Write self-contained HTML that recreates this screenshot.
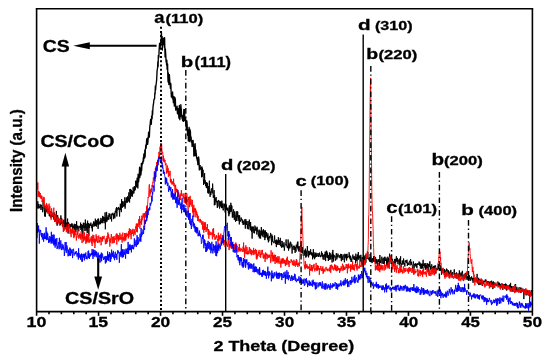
<!DOCTYPE html>
<html><head><meta charset="utf-8"><style>
html,body{margin:0;padding:0;background:#fff;}
svg{display:block;}
text{font-family:'Liberation Sans',Arial,sans-serif;font-weight:bold;stroke:#000;stroke-width:0.3px;}
</style></head><body>
<svg width="550" height="362" viewBox="0 0 550 362">
<rect width="550" height="362" fill="#fff"/>
<g fill="none" stroke-linejoin="round" stroke-width="0.9">
<polyline points="37.10,208.4 37.35,208.0 37.60,206.5 37.85,201.3 38.10,208.7 38.35,207.3 38.60,204.2 38.85,207.9 39.10,207.4 39.35,207.2 39.60,206.5 39.85,208.3 40.10,204.2 40.35,206.2 40.60,205.3 40.85,208.9 41.10,210.0 41.35,206.2 41.60,204.8 41.85,206.6 42.10,207.6 42.35,206.9 42.60,212.2 42.85,211.4 43.10,199.6 43.35,205.1 43.60,208.2 43.85,207.6 44.10,209.8 44.35,210.0 44.60,216.3 44.85,206.1 45.10,208.7 45.35,216.7 45.60,212.4 45.85,212.6 46.10,209.0 46.35,205.6 46.60,211.6 46.85,211.7 47.10,207.6 47.35,209.6 47.60,211.7 47.85,209.1 48.10,212.1 48.35,212.9 48.60,212.9 48.85,211.4 49.10,215.1 49.35,216.2 49.60,214.6 49.85,211.3 50.10,216.3 50.35,212.7 50.60,217.2 50.85,211.3 51.10,217.8 51.35,215.0 51.60,211.4 51.85,214.5 52.10,215.9 52.35,216.8 52.60,216.6 52.85,212.9 53.10,217.2 53.35,215.3 53.60,217.7 53.85,219.5 54.10,212.3 54.35,218.4 54.60,221.6 54.85,217.1 55.10,215.7 55.35,220.8 55.60,219.4 55.85,221.6 56.10,218.0 56.35,210.9 56.60,219.1 56.85,218.2 57.10,225.7 57.35,220.5 57.60,215.1 57.85,216.6 58.10,223.1 58.35,218.6 58.60,218.8 58.85,220.9 59.10,222.4 59.35,222.6 59.60,221.3 59.85,222.3 60.10,221.4 60.35,221.1 60.60,225.2 60.85,215.4 61.10,221.9 61.35,222.6 61.60,218.4 61.85,223.9 62.10,221.1 62.35,225.8 62.60,223.0 62.85,225.5 63.10,227.3 63.35,225.0 63.60,221.4 63.85,219.7 64.10,229.6 64.35,224.2 64.60,222.6 64.85,225.3 65.10,224.4 65.35,227.7 65.60,225.4 65.85,225.5 66.10,223.5 66.35,227.1 66.60,222.7 66.85,227.7 67.10,230.3 67.35,221.4 67.60,218.6 67.85,227.8 68.10,233.5 68.35,223.1 68.60,222.4 68.85,227.9 69.10,223.7 69.35,224.7 69.60,225.3 69.85,227.9 70.10,225.2 70.35,227.2 70.60,226.0 70.85,224.0 71.10,225.6 71.35,223.8 71.60,226.7 71.85,223.4 72.10,223.5 72.35,231.1 72.60,226.7 72.85,224.5 73.10,228.5 73.35,225.8 73.60,226.4 73.85,228.3 74.10,228.0 74.35,223.8 74.60,229.7 74.85,225.6 75.10,224.2 75.35,224.7 75.60,226.3 75.85,232.2 76.10,224.1 76.35,228.0 76.60,221.2 76.85,227.5 77.10,230.1 77.35,226.8 77.60,225.7 77.85,228.2 78.10,226.4 78.35,229.4 78.60,229.7 78.85,231.3 79.10,225.8 79.35,227.1 79.60,227.3 79.85,227.8 80.10,227.4 80.35,228.0 80.60,222.6 80.85,229.9 81.10,225.8 81.35,224.1 81.60,229.4 81.85,231.4 82.10,228.9 82.35,228.0 82.60,224.8 82.85,238.6 83.10,230.1 83.35,222.7 83.60,225.2 83.85,227.8 84.10,223.0 84.35,228.0 84.60,226.2 84.85,231.1 85.10,230.3 85.35,219.6 85.60,227.6 85.85,222.8 86.10,230.7 86.35,227.9 86.60,228.9 86.85,224.1 87.10,232.5 87.35,233.0 87.60,220.7 87.85,228.0 88.10,224.9 88.35,226.7 88.60,223.0 88.85,235.9 89.10,223.7 89.35,225.6 89.60,227.9 89.85,224.4 90.10,225.6 90.35,224.5 90.60,225.7 90.85,222.6 91.10,224.7 91.35,225.3 91.60,224.8 91.85,228.3 92.10,224.8 92.35,231.4 92.60,224.6 92.85,225.0 93.10,223.4 93.35,223.7 93.60,221.5 93.85,226.7 94.10,221.7 94.35,222.8 94.60,226.0 94.85,226.0 95.10,223.6 95.35,218.7 95.60,225.9 95.85,225.3 96.10,220.2 96.35,226.6 96.60,222.1 96.85,220.7 97.10,224.2 97.35,223.3 97.60,224.3 97.85,218.8 98.10,228.9 98.35,221.5 98.60,218.6 98.85,224.9 99.10,221.9 99.35,223.8 99.60,221.7 99.85,222.4 100.10,223.2 100.35,220.1 100.60,224.2 100.85,217.9 101.10,219.3 101.35,222.1 101.60,223.0 101.85,220.9 102.10,218.8 102.35,223.2 102.60,215.9 102.85,217.9 103.10,221.1 103.35,216.7 103.60,220.8 103.85,220.4 104.10,223.2 104.35,217.5 104.60,218.3 104.85,221.1 105.10,212.4 105.35,229.3 105.60,217.6 105.85,217.3 106.10,222.1 106.35,219.2 106.60,211.9 106.85,220.9 107.10,221.4 107.35,217.2 107.60,217.6 107.85,219.8 108.10,215.3 108.35,219.3 108.60,218.4 108.85,219.5 109.10,213.2 109.35,216.6 109.60,214.4 109.85,216.9 110.10,217.3 110.35,219.1 110.60,216.9 110.85,217.2 111.10,213.7 111.35,218.1 111.60,221.4 111.85,214.7 112.10,213.7 112.35,214.9 112.60,213.7 112.85,212.8 113.10,215.3 113.35,213.8 113.60,219.1 113.85,214.4 114.10,215.3 114.35,217.1 114.60,213.0 114.85,218.3 115.10,211.6 115.35,210.9 115.60,212.1 115.85,212.7 116.10,208.4 116.35,212.5 116.60,207.0 116.85,216.5 117.10,211.5 117.35,209.4 117.60,208.3 117.85,209.7 118.10,209.9 118.35,207.0 118.60,207.1 118.85,209.1 119.10,207.8 119.35,212.2 119.60,216.5 119.85,208.7 120.10,209.9 120.35,203.7 120.60,209.8 120.85,207.4 121.10,208.8 121.35,212.1 121.60,199.2 121.85,207.2 122.10,205.3 122.35,207.7 122.60,201.2 122.85,203.6 123.10,205.6 123.35,206.6 123.60,204.6 123.85,201.4 124.10,201.9 124.35,206.4 124.60,203.2 124.85,197.3 125.10,208.7 125.35,203.7 125.60,205.0 125.85,200.6 126.10,202.4 126.35,197.4 126.60,202.5 126.85,198.4 127.10,201.9 127.35,202.6 127.60,196.3 127.85,198.1 128.10,198.0 128.35,201.5 128.60,196.8 128.85,192.4 129.10,197.7 129.35,198.2 129.60,202.5 129.85,189.0 130.10,192.5 130.35,198.7 130.60,189.0 130.85,189.2 131.10,194.8 131.35,196.3 131.60,190.1 131.85,193.9 132.10,192.1 132.35,196.7 132.60,191.1 132.85,194.2 133.10,187.2 133.35,189.4 133.60,189.4 133.85,193.4 134.10,189.0 134.35,186.1 134.60,190.9 134.85,190.8 135.10,187.4 135.35,189.6 135.60,186.4 135.85,180.8 136.10,187.0" stroke="#000" stroke-width="0.95"/>
<polyline points="135.85,180.8 136.10,187.0 136.35,186.4 136.60,181.6 136.85,186.6 137.10,178.2 137.35,180.4 137.60,179.9 137.85,188.0 138.10,174.3 138.35,181.3 138.60,181.9 138.85,179.1 139.10,177.4 139.35,172.6 139.60,167.2 139.85,177.4 140.10,169.6 140.35,171.9 140.60,168.1 140.85,175.0 141.10,173.1 141.35,163.5 141.60,170.8 141.85,166.7 142.10,164.5 142.35,164.0 142.60,161.8 142.85,163.5 143.10,161.1 143.35,157.5 143.60,161.1 143.85,154.0 144.10,156.0 144.35,155.4 144.60,158.1 144.85,149.9 145.10,156.9 145.35,150.1 145.60,147.7 145.85,144.9 146.10,148.3 146.35,145.2 146.60,140.0 146.85,138.8 147.10,139.8 147.35,138.2 147.60,144.4 147.85,143.0 148.10,139.7 148.35,136.4 148.60,132.2 148.85,132.5 149.10,134.0 149.35,137.1 149.60,131.3 149.85,125.6 150.10,125.3 150.35,122.0 150.60,119.5 150.85,120.2 151.10,120.0 151.35,124.2 151.60,116.0 151.85,118.9 152.10,118.7 152.35,110.8 152.60,114.6 152.85,109.6 153.10,105.9 153.35,105.0 153.60,102.8 153.85,100.5 154.10,99.2 154.35,99.1 154.60,98.8 154.85,92.6 155.10,94.0 155.35,86.0 155.60,89.9 155.85,86.1 156.10,84.6 156.35,82.5 156.60,80.7 156.85,75.9 157.10,70.3 157.35,69.4 157.60,67.5 157.85,61.6 158.10,66.5 158.35,55.4 158.60,57.7 158.85,57.0 159.10,50.4 159.35,46.3 159.60,43.3 159.85,46.6 160.10,48.6 160.35,44.6 160.60,43.2 160.85,40.2 161.10,42.6 161.35,31.9 161.60,37.5 161.85,40.4 162.10,36.4 162.35,50.1 162.60,38.2 162.85,40.0 163.10,38.7 163.35,44.6 163.60,38.1 163.85,42.9 164.10,43.1 164.35,47.3 164.60,37.7 164.85,48.9 165.10,57.0 165.35,48.9 165.60,52.7 165.85,56.7 166.10,61.9 166.35,61.6 166.60,65.0 166.85,60.2 167.10,69.2 167.35,69.8 167.60,64.0 167.85,77.3 168.10,81.9 168.35,72.9 168.60,77.8 168.85,84.6 169.10,75.5 169.35,74.7 169.60,78.2 169.85,81.9 170.10,82.9 170.35,88.2 170.60,88.1 170.85,83.6 171.10,91.2 171.35,97.0 171.60,95.6 171.85,95.9 172.10,93.4 172.35,97.9 172.60,91.9 172.85,99.2 173.10,97.2 173.35,102.6 173.60,101.3 173.85,96.5 174.10,101.5 174.35,106.1 174.60,98.2 174.85,97.4 175.10,100.8 175.35,98.8 175.60,108.3 175.85,110.2 176.10,109.0 176.35,107.7 176.60,107.2 176.85,108.9 177.10,106.1 177.35,112.6 177.60,113.8 177.85,113.7 178.10,108.7 178.35,111.3 178.60,110.7 178.85,118.1 179.10,112.6 179.35,105.5 179.60,114.1 179.85,119.7 180.10,115.8 180.35,116.8 180.60,114.1 180.85,104.6 181.10,108.1 181.35,110.4 181.60,114.9 181.85,116.9 182.10,118.7 182.35,115.4 182.60,120.5 182.85,116.5 183.10,115.4 183.35,121.4 183.60,115.5 183.85,109.4 184.10,115.8 184.35,120.5 184.60,109.7 184.85,120.1 185.10,120.9 185.35,117.6 185.60,118.0 185.85,122.3 186.10,122.6 186.35,129.8 186.60,127.2 186.85,120.8 187.10,124.1 187.35,130.4 187.60,135.3 187.85,130.5 188.10,129.7 188.35,141.0 188.60,131.0 188.85,130.6 189.10,127.3 189.35,131.2 189.60,141.5 189.85,129.2 190.10,135.0 190.35,130.6 190.60,136.8 190.85,140.2 191.10,136.8 191.35,142.1 191.60,141.5 191.85,141.2 192.10,146.5 192.35,145.8 192.60,140.9 192.85,140.4 193.10,140.6 193.35,146.2 193.60,144.2 193.85,156.0 194.10,153.6 194.35,147.1 194.60,147.5 194.85,155.6 195.10,143.6 195.35,149.7 195.60,155.7 195.85,149.9 196.10,152.4 196.35,153.8 196.60,158.3 196.85,157.4 197.10,159.3 197.35,160.9 197.60,159.8 197.85,164.6 198.10,158.9 198.35,157.3 198.60,157.0 198.85,158.5 199.10,163.3 199.35,169.9 199.60,167.8 199.85,165.9 200.10,165.2" stroke="#000" stroke-width="1.35"/>
<polyline points="199.85,165.9 200.10,165.2 200.35,168.0 200.60,169.4 200.85,169.8 201.10,167.3 201.35,171.4 201.60,177.3 201.85,166.5 202.10,174.0 202.35,167.8 202.60,176.7 202.85,174.0 203.10,169.8 203.35,178.2 203.60,185.0 203.85,179.5 204.10,183.9 204.35,180.0 204.60,173.1 204.85,183.2 205.10,180.6 205.35,180.4 205.60,186.1 205.85,184.9 206.10,182.5 206.35,187.9 206.60,182.2 206.85,188.0 207.10,182.8 207.35,188.6 207.60,183.2 207.85,192.9 208.10,188.9 208.35,193.6 208.60,186.1 208.85,187.7 209.10,192.8 209.35,180.7 209.60,187.1 209.85,194.9 210.10,196.8 210.35,195.6 210.60,191.6 210.85,195.0 211.10,190.9 211.35,189.1 211.60,188.4 211.85,192.7 212.10,193.1 212.35,193.2 212.60,183.6 212.85,187.6 213.10,194.7 213.35,197.9 213.60,195.3 213.85,194.6 214.10,190.2 214.35,205.3 214.60,195.0 214.85,204.9 215.10,204.8 215.35,200.8 215.60,198.4 215.85,201.1 216.10,197.0 216.35,202.0 216.60,201.4 216.85,203.4 217.10,205.1 217.35,207.9 217.60,201.1 217.85,206.1 218.10,200.3 218.35,200.2 218.60,201.3 218.85,200.4 219.10,207.1 219.35,207.2 219.60,208.6 219.85,201.0 220.10,205.8 220.35,203.2 220.60,201.6 220.85,207.1 221.10,206.7 221.35,202.3 221.60,208.1 221.85,200.6 222.10,205.9 222.35,204.6 222.60,208.2 222.85,203.5 223.10,210.3 223.35,209.2 223.60,210.1 223.85,208.1 224.10,203.6 224.35,206.8 224.60,204.3 224.85,209.8 225.10,212.4 225.35,212.0 225.60,206.9 225.85,207.8 226.10,206.1 226.35,204.6 226.60,209.9 226.85,210.2 227.10,208.0 227.35,208.5 227.60,210.6 227.85,207.6 228.10,207.7 228.35,213.0 228.60,211.3 228.85,216.2 229.10,207.8 229.35,205.4 229.60,214.2 229.85,212.1 230.10,209.2 230.35,207.0 230.60,211.7 230.85,202.8 231.10,211.0 231.35,205.3 231.60,211.7 231.85,205.8 232.10,212.0 232.35,217.7 232.60,212.2 232.85,215.8 233.10,211.6 233.35,211.0 233.60,209.4 233.85,217.6 234.10,214.4 234.35,219.9 234.60,211.4 234.85,214.6 235.10,215.8 235.35,220.2 235.60,221.7 235.85,214.3 236.10,213.0 236.35,211.3 236.60,221.0 236.85,216.8 237.10,215.3 237.35,217.3 237.60,211.3 237.85,212.5 238.10,220.9 238.35,219.4 238.60,215.2 238.85,215.5 239.10,220.5 239.35,224.4 239.60,215.3 239.85,219.3 240.10,221.2 240.35,221.8 240.60,219.9 240.85,219.6 241.10,217.5 241.35,220.3 241.60,218.7 241.85,220.3 242.10,220.8 242.35,223.1 242.60,219.6 242.85,220.5 243.10,224.9 243.35,221.2 243.60,221.3 243.85,224.9 244.10,223.3 244.35,222.9 244.60,223.5 244.85,219.3 245.10,224.6 245.35,228.6 245.60,222.1 245.85,219.1 246.10,224.8 246.35,221.4 246.60,223.5 246.85,224.8 247.10,221.0 247.35,228.7 247.60,224.6 247.85,227.3 248.10,227.0 248.35,229.3 248.60,229.0 248.85,221.2 249.10,225.9 249.35,219.6 249.60,224.7 249.85,228.3 250.10,229.0 250.35,230.3 250.60,222.0 250.85,227.7 251.10,227.2 251.35,230.8 251.60,231.9 251.85,226.4 252.10,238.6 252.35,227.7 252.60,226.8 252.85,229.8 253.10,230.4 253.35,227.8 253.60,226.6 253.85,232.9 254.10,228.9 254.35,233.4 254.60,233.1 254.85,225.6 255.10,226.6 255.35,226.7 255.60,230.4 255.85,230.0 256.10,230.8 256.35,227.8 256.60,231.5 256.85,234.5 257.10,226.8 257.35,230.2 257.60,231.6 257.85,230.7 258.10,230.6 258.35,236.4 258.60,235.1 258.85,234.0 259.10,229.6 259.35,238.3 259.60,233.1 259.85,230.5 260.10,231.4 260.35,231.1 260.60,238.6 260.85,233.4 261.10,233.1 261.35,227.0 261.60,235.3 261.85,230.4 262.10,230.3 262.35,235.4 262.60,231.4 262.85,236.3 263.10,237.2 263.35,229.2 263.60,234.0 263.85,230.1 264.10,234.5 264.35,237.4 264.60,231.1 264.85,240.1 265.10,234.4 265.35,230.3 265.60,235.2 265.85,237.9 266.10,232.0 266.35,236.0 266.60,232.3 266.85,235.7 267.10,236.9 267.35,235.4 267.60,239.6 267.85,233.3 268.10,236.0 268.35,242.3 268.60,237.0 268.85,241.2 269.10,238.2 269.35,235.9 269.60,237.3 269.85,238.3 270.10,237.2 270.35,236.2 270.60,232.9 270.85,234.7 271.10,239.2 271.35,240.1 271.60,245.2 271.85,234.5 272.10,241.7 272.35,239.6 272.60,236.0 272.85,241.8 273.10,242.3 273.35,241.7 273.60,242.4 273.85,243.1 274.10,243.2 274.35,240.8 274.60,235.5 274.85,239.2 275.10,242.3 275.35,240.3 275.60,243.5 275.85,244.0 276.10,242.1 276.35,247.1 276.60,239.6 276.85,244.7 277.10,241.1 277.35,240.4 277.60,244.1 277.85,241.0 278.10,245.0 278.35,237.2 278.60,243.0 278.85,240.7 279.10,241.2 279.35,242.2 279.60,240.3 279.85,245.1 280.10,240.1 280.35,237.9 280.60,246.0 280.85,246.3 281.10,245.5 281.35,244.8 281.60,247.7 281.85,240.9 282.10,242.2 282.35,241.6 282.60,246.7 282.85,245.2 283.10,247.4 283.35,247.1 283.60,244.1 283.85,242.6 284.10,242.3 284.35,250.7 284.60,247.6 284.85,246.7 285.10,244.4 285.35,244.8 285.60,244.5 285.85,244.7 286.10,239.4 286.35,245.5 286.60,244.7 286.85,246.5 287.10,246.4 287.35,248.1 287.60,245.9 287.85,248.1 288.10,239.5 288.35,243.3 288.60,250.6 288.85,243.1 289.10,245.6 289.35,248.2 289.60,244.2 289.85,248.3 290.10,242.9 290.35,241.7 290.60,244.5 290.85,242.5 291.10,246.7 291.35,246.0 291.60,246.3 291.85,244.3 292.10,253.5 292.35,246.8 292.60,247.0 292.85,248.4 293.10,246.6 293.35,245.7 293.60,247.6 293.85,249.8 294.10,249.2 294.35,250.0 294.60,246.2 294.85,245.7 295.10,252.9 295.35,247.2 295.60,249.1 295.85,249.8 296.10,251.6 296.35,244.7 296.60,247.0 296.85,247.3 297.10,247.7 297.35,242.5 297.60,248.4 297.85,241.5 298.10,249.7 298.35,250.4 298.60,250.7 298.85,246.2 299.10,251.8 299.35,247.3 299.60,246.5 299.85,247.2 300.10,247.7 300.35,250.4 300.60,252.1 300.85,244.9 301.10,248.9 301.35,252.6 301.60,251.0 301.85,251.9 302.10,247.0 302.35,253.2 302.60,247.1 302.85,251.6 303.10,254.6 303.35,256.0 303.60,252.7 303.85,253.7 304.10,250.1 304.35,250.6 304.60,254.8 304.85,255.7 305.10,251.8 305.35,248.7 305.60,252.7 305.85,257.6 306.10,250.6 306.35,251.3 306.60,256.5 306.85,253.1 307.10,252.0 307.35,246.1 307.60,251.3 307.85,252.3 308.10,256.3 308.35,251.5 308.60,257.4 308.85,250.8 309.10,252.2 309.35,255.2 309.60,252.6 309.85,251.2 310.10,253.0 310.35,254.5 310.60,249.2 310.85,252.9 311.10,253.3 311.35,252.6 311.60,255.4 311.85,252.3 312.10,252.8 312.35,253.9 312.60,259.3 312.85,253.3 313.10,257.6 313.35,249.2 313.60,257.1 313.85,252.0 314.10,253.7 314.35,255.1 314.60,259.2 314.85,256.4 315.10,253.3 315.35,257.5 315.60,253.9 315.85,252.6 316.10,255.6 316.35,254.8 316.60,256.9 316.85,253.3 317.10,255.6 317.35,256.2 317.60,255.4 317.85,254.7 318.10,253.1 318.35,257.0 318.60,255.2 318.85,256.1 319.10,254.1 319.35,255.0 319.60,252.6 319.85,255.3 320.10,256.9 320.35,255.4 320.60,257.2 320.85,256.0 321.10,256.0 321.35,254.8 321.60,251.4 321.85,256.4 322.10,255.0 322.35,253.1 322.60,257.0 322.85,256.2 323.10,259.4 323.35,254.8 323.60,256.1 323.85,256.3 324.10,259.9 324.35,254.1 324.60,255.8 324.85,256.7 325.10,251.8 325.35,252.1 325.60,261.1 325.85,251.8 326.10,257.4 326.35,250.7 326.60,254.2 326.85,251.4 327.10,254.0 327.35,258.0 327.60,252.9 327.85,257.6 328.10,257.0 328.35,261.0 328.60,255.1 328.85,259.3 329.10,258.4 329.35,255.7 329.60,252.4 329.85,260.0 330.10,253.2 330.35,255.3 330.60,258.6 330.85,259.1 331.10,254.5 331.35,256.5 331.60,255.9 331.85,257.8 332.10,262.5 332.35,252.3 332.60,258.8 332.85,249.9 333.10,259.1 333.35,254.1 333.60,261.5 333.85,257.2 334.10,255.1 334.35,255.7 334.60,255.5 334.85,257.3 335.10,256.5 335.35,258.5 335.60,260.6 335.85,258.6 336.10,254.1 336.35,253.2 336.60,255.2 336.85,259.4 337.10,256.2 337.35,255.4 337.60,257.2 337.85,253.6 338.10,254.2 338.35,255.9 338.60,256.2 338.85,255.8 339.10,257.6 339.35,255.5 339.60,255.2 339.85,255.7 340.10,258.2 340.35,256.9 340.60,253.9 340.85,256.0 341.10,258.3 341.35,261.2 341.60,254.0 341.85,257.5 342.10,256.1 342.35,258.6 342.60,257.7 342.85,260.1 343.10,254.5 343.35,255.3 343.60,255.3 343.85,257.6 344.10,257.5 344.35,262.3 344.60,260.5 344.85,253.8 345.10,257.4 345.35,254.5 345.60,255.5 345.85,258.3 346.10,257.8 346.35,254.1 346.60,260.5 346.85,254.3 347.10,253.8 347.35,258.2 347.60,257.2 347.85,256.3 348.10,256.6 348.35,257.3 348.60,256.4 348.85,256.4 349.10,252.3 349.35,253.7 349.60,258.3 349.85,255.2 350.10,258.2 350.35,259.8 350.60,256.1 350.85,257.7 351.10,261.9 351.35,258.7 351.60,261.4 351.85,260.7 352.10,258.9 352.35,256.9 352.60,255.2 352.85,254.6 353.10,258.4 353.35,258.3 353.60,256.8 353.85,259.3 354.10,255.9 354.35,259.9 354.60,257.5 354.85,257.3 355.10,257.4 355.35,257.2 355.60,263.3 355.85,253.7 356.10,257.9 356.35,260.4 356.60,259.2 356.85,256.8 357.10,261.6 357.35,255.1 357.60,254.5 357.85,258.9 358.10,254.2 358.35,252.0 358.60,259.7 358.85,258.1 359.10,256.7 359.35,256.5 359.60,258.1 359.85,255.4 360.10,261.7 360.35,259.5 360.60,259.4 360.85,254.8 361.10,259.6 361.35,261.2 361.60,264.5 361.85,259.6 362.10,257.8 362.35,257.0 362.60,259.2 362.85,258.7 363.10,258.4 363.35,257.1 363.60,261.8 363.85,255.1 364.10,257.8 364.35,256.5 364.60,260.3 364.85,261.2 365.10,260.8 365.35,259.7 365.60,254.6 365.85,262.8 366.10,259.1 366.35,257.7 366.60,256.6 366.85,257.2 367.10,259.0 367.35,258.7 367.60,257.2 367.85,252.0 368.10,258.0 368.35,259.3 368.60,259.4 368.85,257.9 369.10,259.4 369.35,260.8 369.60,257.4 369.85,261.9 370.10,254.1 370.35,255.7 370.60,256.6 370.85,253.1 371.10,256.5 371.35,261.8 371.60,261.9 371.85,259.3 372.10,263.1 372.35,259.7 372.60,258.1 372.85,259.9 373.10,259.1 373.35,261.1 373.60,256.0 373.85,261.9 374.10,258.6 374.35,261.7 374.60,256.2 374.85,258.9 375.10,260.1 375.35,262.0 375.60,257.2 375.85,263.9 376.10,261.3 376.35,259.0 376.60,263.1 376.85,260.6 377.10,263.0 377.35,265.8 377.60,262.3 377.85,259.4 378.10,259.7 378.35,262.1 378.60,259.5 378.85,259.0 379.10,259.4 379.35,262.5 379.60,266.3 379.85,255.0 380.10,262.6 380.35,260.5 380.60,262.8 380.85,263.0 381.10,261.1 381.35,258.7 381.60,257.8 381.85,256.7 382.10,263.8 382.35,260.5 382.60,259.8 382.85,260.4 383.10,258.0 383.35,261.7 383.60,264.0 383.85,263.6 384.10,257.4 384.35,264.1 384.60,259.3 384.85,256.7 385.10,258.2 385.35,258.8 385.60,261.0 385.85,258.7 386.10,257.6 386.35,260.4 386.60,265.4 386.85,259.4 387.10,262.1 387.35,261.2 387.60,267.0 387.85,256.7 388.10,261.9 388.35,258.1 388.60,259.7 388.85,260.8 389.10,266.5 389.35,259.3 389.60,253.7 389.85,263.9 390.10,259.1 390.35,260.5 390.60,261.0 390.85,261.3 391.10,260.8 391.35,261.8 391.60,262.1 391.85,263.2 392.10,260.3 392.35,259.6 392.60,258.9 392.85,262.7 393.10,261.3 393.35,262.7 393.60,262.7 393.85,265.3 394.10,262.0 394.35,263.3 394.60,258.9 394.85,259.2 395.10,261.0 395.35,259.0 395.60,263.3 395.85,258.8 396.10,261.9 396.35,256.3 396.60,259.4 396.85,261.1 397.10,261.3 397.35,257.9 397.60,262.2 397.85,264.2 398.10,263.5 398.35,260.6 398.60,260.8 398.85,259.5 399.10,263.6 399.35,265.4 399.60,261.1 399.85,258.5 400.10,262.8 400.35,263.9 400.60,256.3 400.85,262.7 401.10,267.3 401.35,264.3 401.60,263.7 401.85,263.4 402.10,264.9 402.35,260.5 402.60,260.7 402.85,263.6 403.10,261.1 403.35,263.3 403.60,258.5 403.85,264.5 404.10,264.7 404.35,262.9 404.60,263.2 404.85,266.5 405.10,260.5 405.35,260.9 405.60,260.5 405.85,262.1 406.10,260.8 406.35,263.1 406.60,261.6 406.85,259.9 407.10,259.7 407.35,265.9 407.60,263.1 407.85,262.7 408.10,263.3 408.35,263.1 408.60,265.0 408.85,264.6 409.10,262.1 409.35,261.6 409.60,261.0 409.85,260.7 410.10,265.4 410.35,261.5 410.60,259.1 410.85,261.8 411.10,261.9 411.35,264.4 411.60,261.8 411.85,265.0 412.10,264.7 412.35,266.6 412.60,268.7 412.85,270.2 413.10,266.9 413.35,261.4 413.60,263.1 413.85,264.6 414.10,268.6 414.35,265.6 414.60,264.0 414.85,263.8 415.10,265.5 415.35,265.9 415.60,263.3 415.85,266.1 416.10,266.7 416.35,264.1 416.60,264.1 416.85,268.1 417.10,263.5 417.35,264.6 417.60,263.9 417.85,263.3 418.10,265.0 418.35,263.8 418.60,264.1 418.85,263.1 419.10,261.5 419.35,262.8 419.60,265.6 419.85,262.4 420.10,263.6 420.35,268.6 420.60,267.5 420.85,263.6 421.10,266.4 421.35,263.8 421.60,268.7 421.85,264.0 422.10,265.5 422.35,268.3 422.60,263.6 422.85,268.2 423.10,259.8 423.35,266.0 423.60,264.9 423.85,265.3 424.10,265.9 424.35,265.4 424.60,263.4 424.85,267.6 425.10,264.8 425.35,269.7 425.60,268.8 425.85,263.0 426.10,268.7 426.35,268.8 426.60,264.9 426.85,268.4 427.10,269.3 427.35,265.1 427.60,263.3 427.85,265.6 428.10,272.4 428.35,267.0 428.60,263.9 428.85,266.0 429.10,264.5 429.35,265.8 429.60,267.0 429.85,261.3 430.10,267.6 430.35,269.9 430.60,266.6 430.85,266.2 431.10,269.4 431.35,264.5 431.60,264.6 431.85,264.3 432.10,267.0 432.35,268.2 432.60,267.3 432.85,271.3 433.10,269.3 433.35,268.7 433.60,266.0 433.85,267.2 434.10,270.4 434.35,265.6 434.60,267.4 434.85,267.1 435.10,267.7 435.35,265.9 435.60,265.4 435.85,273.7 436.10,270.4 436.35,269.1 436.60,268.4 436.85,270.1 437.10,268.0 437.35,270.1 437.60,267.6 437.85,268.3 438.10,268.9 438.35,268.2 438.60,264.2 438.85,269.4 439.10,270.0 439.35,270.5 439.60,267.6 439.85,270.4 440.10,270.2 440.35,266.2 440.60,265.4 440.85,271.0 441.10,268.2 441.35,272.3 441.60,274.7 441.85,269.2 442.10,269.1 442.35,270.6 442.60,272.1 442.85,268.5 443.10,273.4 443.35,273.0 443.60,272.4 443.85,270.0 444.10,273.1 444.35,273.0 444.60,269.0 444.85,277.0 445.10,270.9 445.35,272.4 445.60,270.6 445.85,275.8 446.10,274.1 446.35,270.2 446.60,268.6 446.85,271.1 447.10,269.4 447.35,270.6 447.60,271.9 447.85,272.1 448.10,274.9 448.35,270.3 448.60,273.1 448.85,271.5 449.10,275.3 449.35,277.6 449.60,273.3 449.85,276.1 450.10,271.7 450.35,273.3 450.60,270.4 450.85,269.9 451.10,271.2 451.35,272.6 451.60,275.4 451.85,274.6 452.10,277.3 452.35,272.5 452.60,272.0 452.85,273.6 453.10,273.8 453.35,274.1 453.60,274.4 453.85,273.5 454.10,270.0 454.35,269.3 454.60,272.3 454.85,277.3 455.10,273.2 455.35,275.4 455.60,277.0 455.85,274.9 456.10,273.5 456.35,273.8 456.60,272.4 456.85,278.6 457.10,276.7 457.35,275.7 457.60,276.2 457.85,276.1 458.10,278.7 458.35,273.6 458.60,275.2 458.85,276.3 459.10,277.4 459.35,270.4 459.60,274.1 459.85,274.8 460.10,273.3 460.35,276.9 460.60,275.8 460.85,274.7 461.10,272.4 461.35,273.0 461.60,273.7 461.85,276.6 462.10,273.4 462.35,270.8 462.60,273.1 462.85,274.8 463.10,279.2 463.35,280.9 463.60,275.2 463.85,278.0 464.10,278.9 464.35,278.8 464.60,276.1 464.85,273.9 465.10,275.6 465.35,273.0 465.60,277.1 465.85,278.2 466.10,273.2 466.35,276.8 466.60,277.6 466.85,279.5 467.10,279.8 467.35,278.8 467.60,276.0 467.85,276.7 468.10,279.8 468.35,276.4 468.60,277.6 468.85,280.8 469.10,278.1 469.35,275.3 469.60,277.5 469.85,279.3 470.10,277.8 470.35,280.5 470.60,280.8 470.85,277.2 471.10,277.6 471.35,278.4 471.60,276.4 471.85,279.5 472.10,280.2 472.35,280.5 472.60,277.9 472.85,280.2 473.10,282.8 473.35,277.6 473.60,278.3 473.85,278.1 474.10,279.0 474.35,277.9 474.60,281.2 474.85,278.5 475.10,279.0 475.35,280.6 475.60,281.3 475.85,280.9 476.10,278.6 476.35,280.8 476.60,279.9 476.85,279.9 477.10,273.9 477.35,281.5 477.60,280.0 477.85,283.6 478.10,281.6 478.35,278.2 478.60,277.8 478.85,285.1 479.10,278.8 479.35,281.8 479.60,283.5 479.85,284.7 480.10,280.8 480.35,279.7 480.60,284.5 480.85,279.9 481.10,280.2 481.35,283.7 481.60,280.9 481.85,279.3 482.10,283.3 482.35,286.0 482.60,281.0 482.85,283.8 483.10,280.9 483.35,283.8 483.60,280.8 483.85,283.9 484.10,282.4 484.35,281.1 484.60,281.9 484.85,280.5 485.10,279.5 485.35,279.7 485.60,281.7 485.85,279.8 486.10,279.6 486.35,283.1 486.60,283.0 486.85,281.3 487.10,282.4 487.35,282.3 487.60,285.0 487.85,281.0 488.10,281.9 488.35,282.3 488.60,282.5 488.85,281.4 489.10,281.8 489.35,285.0 489.60,281.9 489.85,285.0 490.10,287.2 490.35,285.8 490.60,281.2 490.85,285.0 491.10,284.5 491.35,284.8 491.60,280.7 491.85,285.3 492.10,281.9 492.35,286.5 492.60,286.2 492.85,289.1 493.10,283.5 493.35,281.4 493.60,286.4 493.85,286.2 494.10,283.9 494.35,287.3 494.60,286.1 494.85,282.4 495.10,284.2 495.35,284.0 495.60,284.7 495.85,285.3 496.10,283.7 496.35,284.6 496.60,286.2 496.85,284.9 497.10,284.6 497.35,284.6 497.60,285.0 497.85,281.5 498.10,285.6 498.35,283.3 498.60,285.5 498.85,282.5 499.10,287.2 499.35,285.9 499.60,282.9 499.85,285.9 500.10,284.1 500.35,289.0 500.60,286.5 500.85,284.1 501.10,286.1 501.35,285.6 501.60,288.0 501.85,283.8 502.10,286.8 502.35,283.7 502.60,285.3 502.85,289.9 503.10,287.1 503.35,285.9 503.60,286.3 503.85,284.2 504.10,286.4 504.35,284.0 504.60,288.6 504.85,285.4 505.10,284.7 505.35,287.4 505.60,283.5 505.85,286.4 506.10,284.0 506.35,290.1 506.60,290.5 506.85,288.4 507.10,287.3 507.35,288.1 507.60,288.0 507.85,285.2 508.10,285.4 508.35,287.5 508.60,286.3 508.85,286.5 509.10,288.9 509.35,287.3 509.60,284.6 509.85,287.3 510.10,286.3 510.35,287.3 510.60,282.9 510.85,290.3 511.10,291.7 511.35,286.0 511.60,289.4 511.85,289.4 512.10,286.3 512.35,288.6 512.60,291.2 512.85,290.2 513.10,291.8 513.35,286.5 513.60,287.4 513.85,289.4 514.10,289.6 514.35,289.1 514.60,288.3 514.85,288.4 515.10,284.4 515.35,290.1 515.60,284.0 515.85,292.4 516.10,288.4 516.35,290.4 516.60,290.5 516.85,286.8 517.10,290.3 517.35,288.9 517.60,290.8 517.85,291.2 518.10,292.3 518.35,288.9 518.60,289.3 518.85,289.9 519.10,287.3 519.35,291.2 519.60,290.3 519.85,287.5 520.10,292.5 520.35,292.8 520.60,287.7 520.85,291.4 521.10,292.8 521.35,292.0 521.60,288.6 521.85,287.8 522.10,290.3 522.35,289.7 522.60,290.6 522.85,290.5 523.10,291.8 523.35,289.7 523.60,290.5 523.85,299.1 524.10,290.7 524.35,289.5 524.60,291.6 524.85,291.5 525.10,289.4 525.35,292.3 525.60,291.2 525.85,292.9 526.10,295.4 526.35,291.9 526.60,293.0 526.85,289.7 527.10,291.9 527.35,294.7 527.60,291.7 527.85,290.7 528.10,292.3 528.35,291.7 528.60,291.6 528.85,291.4 529.10,296.0 529.35,290.6 529.60,291.5 529.85,291.3 530.10,294.8 530.35,292.0 530.60,295.1 530.85,293.0 531.10,292.7 531.35,290.0 531.60,295.2 531.85,293.9" stroke="#000" stroke-width="0.95"/>
<polyline points="37.10,189.6 37.35,187.8 37.60,188.7 37.85,182.5 38.10,197.0 38.35,195.3 38.60,191.0 38.85,195.1 39.10,194.0 39.35,191.8 39.60,197.3 39.85,193.6 40.10,194.0 40.35,193.0 40.60,197.6 40.85,196.3 41.10,199.0 41.35,195.7 41.60,198.6 41.85,195.7 42.10,202.0 42.35,200.2 42.60,201.1 42.85,201.8 43.10,197.6 43.35,203.9 43.60,208.6 43.85,196.8 44.10,197.0 44.35,198.1 44.60,206.3 44.85,204.4 45.10,208.0 45.35,207.2 45.60,206.0 45.85,206.7 46.10,205.6 46.35,209.3 46.60,203.0 46.85,205.6 47.10,208.1 47.35,213.5 47.60,205.4 47.85,204.7 48.10,206.7 48.35,213.1 48.60,208.4 48.85,213.7 49.10,203.6 49.35,213.7 49.60,213.7 49.85,206.0 50.10,211.4 50.35,215.1 50.60,211.8 50.85,215.0 51.10,219.8 51.35,213.3 51.60,208.3 51.85,210.6 52.10,215.4 52.35,213.0 52.60,213.4 52.85,213.9 53.10,216.6 53.35,211.4 53.60,210.3 53.85,207.7 54.10,219.5 54.35,216.3 54.60,221.1 54.85,216.6 55.10,214.6 55.35,218.7 55.60,217.3 55.85,213.9 56.10,215.3 56.35,223.8 56.60,219.6 56.85,220.1 57.10,218.1 57.35,217.1 57.60,222.2 57.85,219.3 58.10,217.5 58.35,219.7 58.60,217.6 58.85,221.1 59.10,224.3 59.35,218.5 59.60,225.6 59.85,219.4 60.10,222.2 60.35,219.4 60.60,221.5 60.85,222.5 61.10,221.3 61.35,220.7 61.60,221.0 61.85,220.8 62.10,218.7 62.35,222.9 62.60,225.2 62.85,226.9 63.10,226.3 63.35,232.0 63.60,225.8 63.85,223.7 64.10,230.9 64.35,222.4 64.60,228.6 64.85,223.1 65.10,227.2 65.35,220.6 65.60,229.3 65.85,226.4 66.10,224.2 66.35,232.2 66.60,229.7 66.85,227.8 67.10,225.7 67.35,228.0 67.60,227.8 67.85,230.6 68.10,231.0 68.35,226.9 68.60,224.0 68.85,227.7 69.10,225.5 69.35,228.0 69.60,229.6 69.85,232.1 70.10,234.1 70.35,228.1 70.60,232.3 70.85,229.6 71.10,237.1 71.35,231.1 71.60,232.9 71.85,229.0 72.10,229.5 72.35,232.7 72.60,229.1 72.85,233.5 73.10,228.2 73.35,234.8 73.60,230.5 73.85,238.2 74.10,232.7 74.35,236.8 74.60,229.9 74.85,235.3 75.10,231.8 75.35,233.1 75.60,234.7 75.85,234.0 76.10,235.8 76.35,240.5 76.60,237.0 76.85,235.1 77.10,231.5 77.35,233.2 77.60,235.0 77.85,229.7 78.10,237.8 78.35,235.2 78.60,235.2 78.85,238.7 79.10,238.0 79.35,236.8 79.60,233.5 79.85,237.2 80.10,237.4 80.35,234.1 80.60,239.5 80.85,238.1 81.10,231.3 81.35,237.2 81.60,234.5 81.85,240.2 82.10,243.0 82.35,234.2 82.60,234.9 82.85,237.7 83.10,236.8 83.35,241.8 83.60,239.7 83.85,237.0 84.10,239.4 84.35,232.3 84.60,238.9 84.85,240.5 85.10,237.7 85.35,236.3 85.60,239.9 85.85,243.8 86.10,239.1 86.35,235.5 86.60,242.6 86.85,233.5 87.10,240.1 87.35,237.2 87.60,241.4 87.85,234.0 88.10,242.6 88.35,239.8 88.60,234.3 88.85,233.7 89.10,238.3 89.35,242.7 89.60,239.6 89.85,239.5 90.10,238.7 90.35,241.4 90.60,240.5 90.85,240.2 91.10,236.8 91.35,242.8 91.60,243.3 91.85,236.1 92.10,246.0 92.35,241.7 92.60,238.5 92.85,234.7 93.10,241.7 93.35,241.5 93.60,238.4 93.85,235.2 94.10,243.2 94.35,238.6 94.60,238.9 94.85,248.0 95.10,246.1 95.35,239.9 95.60,239.2 95.85,242.2 96.10,234.3 96.35,240.8 96.60,238.4 96.85,237.0 97.10,236.1 97.35,241.9 97.60,242.9 97.85,240.8 98.10,242.7 98.35,238.1 98.60,237.0 98.85,235.5 99.10,239.4 99.35,242.4 99.60,239.9 99.85,242.1 100.10,237.1 100.35,239.0 100.60,238.2 100.85,236.9 101.10,245.3 101.35,240.9 101.60,238.1 101.85,238.1 102.10,240.0 102.35,236.3 102.60,241.4 102.85,236.6 103.10,239.1 103.35,237.3 103.60,238.8 103.85,236.5 104.10,235.8 104.35,237.4 104.60,238.2 104.85,239.3 105.10,240.2 105.35,244.2 105.60,242.2 105.85,239.3 106.10,242.0 106.35,238.1 106.60,243.9 106.85,241.4 107.10,236.1 107.35,241.9 107.60,242.0 107.85,232.4 108.10,237.6 108.35,238.4 108.60,234.3 108.85,236.7 109.10,236.9 109.35,240.9 109.60,240.3 109.85,246.6 110.10,238.3 110.35,242.5 110.60,239.5 110.85,240.0 111.10,236.1 111.35,234.0 111.60,237.1 111.85,241.2 112.10,243.4 112.35,242.0 112.60,237.0 112.85,236.7 113.10,243.2 113.35,242.6 113.60,237.4 113.85,238.7 114.10,236.0 114.35,242.8 114.60,239.8 114.85,238.4 115.10,239.8 115.35,239.8 115.60,237.4 115.85,235.1 116.10,234.9 116.35,233.6 116.60,239.7 116.85,244.5 117.10,233.6 117.35,238.6 117.60,239.3 117.85,235.4 118.10,238.6 118.35,235.0 118.60,241.3 118.85,236.3 119.10,238.2 119.35,239.7 119.60,236.6 119.85,232.8 120.10,236.2 120.35,239.7 120.60,237.3 120.85,238.2 121.10,234.5 121.35,237.8 121.60,239.4 121.85,237.4 122.10,242.6 122.35,236.7 122.60,234.3 122.85,232.6 123.10,240.3 123.35,236.9 123.60,239.8 123.85,238.2 124.10,241.4 124.35,240.4 124.60,233.0 124.85,237.5 125.10,239.7 125.35,233.2 125.60,240.6 125.85,239.9 126.10,239.2 126.35,235.7 126.60,237.0 126.85,232.8 127.10,236.0 127.35,234.0 127.60,235.7 127.85,234.0 128.10,236.0 128.35,238.4 128.60,231.2 128.85,237.3 129.10,232.5 129.35,228.3 129.60,233.9 129.85,234.1 130.10,235.2 130.35,229.0 130.60,233.3 130.85,233.7 131.10,239.2 131.35,232.6 131.60,234.2 131.85,229.7 132.10,231.7 132.35,230.8 132.60,233.9 132.85,228.8 133.10,229.0 133.35,236.0 133.60,236.2 133.85,231.9 134.10,231.5 134.35,229.4 134.60,233.3 134.85,231.5 135.10,234.8 135.35,230.5 135.60,226.6 135.85,227.5 136.10,226.0 136.35,223.6 136.60,231.8 136.85,230.1 137.10,223.7 137.35,232.3 137.60,227.4 137.85,223.5 138.10,227.1 138.35,225.4 138.60,222.9 138.85,219.0 139.10,224.6 139.35,225.0 139.60,216.0 139.85,228.6 140.10,224.9 140.35,221.2 140.60,222.6 140.85,221.1 141.10,218.9 141.35,219.9 141.60,224.7 141.85,215.6 142.10,220.4 142.35,219.8 142.60,216.6 142.85,216.9 143.10,213.5 143.35,214.7 143.60,217.0 143.85,217.5 144.10,213.2 144.35,225.3 144.60,213.4 144.85,215.1 145.10,213.5 145.35,212.5 145.60,217.5 145.85,211.3 146.10,216.0 146.35,214.4 146.60,206.2 146.85,211.9 147.10,205.4 147.35,215.5 147.60,204.1 147.85,201.2 148.10,197.0 148.35,197.9 148.60,196.5 148.85,190.7 149.10,185.5 149.35,184.3 149.60,188.7 149.85,196.9 150.10,189.3 150.35,193.9 150.60,192.0 150.85,189.4 151.10,188.7 151.35,188.3 151.60,192.1 151.85,187.6 152.10,184.9 152.35,187.1 152.60,184.8 152.85,181.9 153.10,182.7 153.35,177.4 153.60,181.0 153.85,179.3 154.10,175.1 154.35,171.3 154.60,179.1 154.85,173.1 155.10,181.7 155.35,168.2 155.60,172.0 155.85,166.6 156.10,167.8 156.35,168.7 156.60,162.2 156.85,163.5 157.10,163.3 157.35,162.1 157.60,162.7 157.85,163.0 158.10,161.4 158.35,158.5 158.60,155.5 158.85,151.9 159.10,152.2 159.35,151.9 159.60,156.8 159.85,150.5 160.10,146.6 160.35,151.8 160.60,143.1 160.85,146.3 161.10,148.9 161.35,152.0 161.60,143.3 161.85,148.4 162.10,153.5 162.35,152.6 162.60,151.8 162.85,153.7 163.10,160.8 163.35,155.7 163.60,160.5 163.85,161.7 164.10,158.5 164.35,162.4 164.60,160.4 164.85,160.8 165.10,160.0 165.35,165.3 165.60,164.3 165.85,164.6 166.10,163.4 166.35,173.7 166.60,170.9 166.85,168.7 167.10,167.5 167.35,165.4 167.60,172.1 167.85,172.7 168.10,167.8 168.35,176.9 168.60,176.1 168.85,170.8 169.10,172.6 169.35,173.4 169.60,175.8 169.85,175.3 170.10,170.9 170.35,181.9 170.60,178.8 170.85,182.6 171.10,183.3 171.35,179.3 171.60,181.8 171.85,183.8 172.10,184.7 172.35,182.3 172.60,181.4 172.85,184.0 173.10,181.8 173.35,183.1 173.60,178.7 173.85,186.2 174.10,183.1 174.35,185.1 174.60,187.3 174.85,189.0 175.10,194.7 175.35,189.6 175.60,184.8 175.85,190.4 176.10,188.5 176.35,192.3 176.60,189.2 176.85,189.4 177.10,190.2 177.35,190.1 177.60,189.4 177.85,190.4 178.10,192.7 178.35,197.0 178.60,192.2 178.85,192.2 179.10,195.5 179.35,195.6 179.60,199.3 179.85,196.2 180.10,194.4 180.35,199.1 180.60,200.0 180.85,193.6 181.10,195.9 181.35,190.0 181.60,194.6 181.85,193.1 182.10,195.5 182.35,194.8 182.60,196.1 182.85,196.5 183.10,198.7 183.35,198.0 183.60,195.6 183.85,193.4 184.10,202.0 184.35,202.8 184.60,196.8 184.85,200.4 185.10,193.6 185.35,193.7 185.60,198.1 185.85,204.0 186.10,195.8 186.35,196.7 186.60,204.9 186.85,193.5 187.10,202.0 187.35,201.6 187.60,199.5 187.85,200.9 188.10,211.9 188.35,196.9 188.60,199.7 188.85,200.1 189.10,198.9 189.35,197.1 189.60,207.2 189.85,203.0 190.10,195.8 190.35,200.7 190.60,204.7 190.85,205.1 191.10,199.4 191.35,204.2 191.60,205.7 191.85,206.5 192.10,206.9 192.35,199.9 192.60,212.4 192.85,207.3 193.10,213.0 193.35,217.0 193.60,207.7 193.85,204.8 194.10,212.2 194.35,209.4 194.60,209.2 194.85,207.9 195.10,217.3 195.35,211.0 195.60,208.6 195.85,212.2 196.10,210.5 196.35,215.1 196.60,213.7 196.85,212.0 197.10,217.7 197.35,214.2 197.60,218.9 197.85,221.0 198.10,216.3 198.35,215.8 198.60,218.9 198.85,221.4 199.10,219.1 199.35,219.9 199.60,219.8 199.85,221.2 200.10,222.6 200.35,218.9 200.60,220.0 200.85,222.1 201.10,220.2 201.35,223.0 201.60,224.5 201.85,223.2 202.10,221.7 202.35,221.5 202.60,229.5 202.85,227.2 203.10,221.5 203.35,222.7 203.60,231.1 203.85,232.7 204.10,226.5 204.35,229.9 204.60,222.4 204.85,227.1 205.10,229.6 205.35,222.3 205.60,225.8 205.85,230.7 206.10,232.0 206.35,227.3 206.60,230.1 206.85,230.3 207.10,228.7 207.35,224.0 207.60,230.2 207.85,229.5 208.10,234.7 208.35,231.7 208.60,229.1 208.85,238.7 209.10,230.6 209.35,233.6 209.60,234.5 209.85,235.1 210.10,233.6 210.35,234.9 210.60,233.2 210.85,231.8 211.10,233.2 211.35,233.4 211.60,233.6 211.85,234.7 212.10,232.7 212.35,238.4 212.60,239.3 212.85,228.8 213.10,235.2 213.35,233.4 213.60,228.2 213.85,236.9 214.10,234.2 214.35,235.0 214.60,234.4 214.85,239.5 215.10,240.0 215.35,237.5 215.60,238.8 215.85,236.7 216.10,237.6 216.35,235.3 216.60,237.6 216.85,235.6 217.10,238.8 217.35,240.2 217.60,238.9 217.85,241.5 218.10,245.8 218.35,232.7 218.60,238.7 218.85,240.9 219.10,237.7 219.35,235.4 219.60,239.4 219.85,238.7 220.10,237.8 220.35,239.0 220.60,238.2 220.85,233.6 221.10,243.1 221.35,239.5 221.60,237.9 221.85,241.4 222.10,239.0 222.35,235.0 222.60,243.5 222.85,236.6 223.10,240.7 223.35,241.8 223.60,245.2 223.85,244.9 224.10,242.3 224.35,239.9 224.60,240.9 224.85,245.1 225.10,247.1 225.35,243.9 225.60,240.8 225.85,245.5 226.10,241.8 226.35,241.9 226.60,242.3 226.85,244.8 227.10,244.1 227.35,246.1 227.60,247.0 227.85,245.1 228.10,237.7 228.35,239.5 228.60,244.5 228.85,244.0 229.10,250.1 229.35,244.4 229.60,244.2 229.85,247.2 230.10,247.7 230.35,244.4 230.60,246.4 230.85,242.3 231.10,242.9 231.35,248.8 231.60,242.0 231.85,248.2 232.10,247.7 232.35,248.1 232.60,248.6 232.85,247.8 233.10,244.5 233.35,244.0 233.60,245.2 233.85,249.2 234.10,244.1 234.35,245.3 234.60,246.3 234.85,250.8 235.10,243.8 235.35,244.2 235.60,249.4 235.85,242.5 236.10,248.9 236.35,246.9 236.60,244.1 236.85,247.1 237.10,245.7 237.35,248.8 237.60,249.3 237.85,252.3 238.10,248.5 238.35,250.1 238.60,247.2 238.85,248.7 239.10,251.5 239.35,244.0 239.60,250.6 239.85,247.6 240.10,249.3 240.35,250.0 240.60,251.4 240.85,249.9 241.10,248.3 241.35,250.2 241.60,249.5 241.85,249.0 242.10,250.1 242.35,251.9 242.60,250.1 242.85,250.2 243.10,246.6 243.35,249.6 243.60,242.5 243.85,251.9 244.10,247.7 244.35,253.4 244.60,257.8 244.85,249.3 245.10,253.7 245.35,251.4 245.60,249.1 245.85,245.3 246.10,252.0 246.35,254.2 246.60,251.6 246.85,247.0 247.10,248.2 247.35,250.4 247.60,254.4 247.85,251.8 248.10,253.0 248.35,254.2 248.60,250.7 248.85,251.1 249.10,250.9 249.35,247.0 249.60,252.6 249.85,252.6 250.10,254.0 250.35,248.7 250.60,249.7 250.85,254.1 251.10,252.6 251.35,255.3 251.60,249.8 251.85,252.5 252.10,250.4 252.35,252.9 252.60,251.0 252.85,253.6 253.10,255.0 253.35,254.0 253.60,247.9 253.85,254.8 254.10,253.7 254.35,250.0 254.60,250.5 254.85,252.7 255.10,254.2 255.35,251.7 255.60,248.9 255.85,253.7 256.10,253.4 256.35,259.1 256.60,250.0 256.85,259.4 257.10,257.6 257.35,254.1 257.60,257.5 257.85,253.7 258.10,255.9 258.35,251.8 258.60,253.9 258.85,251.3 259.10,249.9 259.35,253.2 259.60,252.3 259.85,255.4 260.10,257.2 260.35,253.7 260.60,257.6 260.85,254.7 261.10,250.2 261.35,255.0 261.60,254.5 261.85,254.4 262.10,251.9 262.35,249.8 262.60,254.1 262.85,255.5 263.10,258.1 263.35,257.7 263.60,258.5 263.85,253.4 264.10,257.9 264.35,254.7 264.60,256.8 264.85,257.6 265.10,261.9 265.35,256.0 265.60,252.4 265.85,258.9 266.10,253.7 266.35,255.6 266.60,255.1 266.85,253.7 267.10,259.2 267.35,257.5 267.60,254.7 267.85,256.4 268.10,255.3 268.35,257.9 268.60,255.6 268.85,254.7 269.10,255.1 269.35,255.7 269.60,257.5 269.85,254.7 270.10,256.8 270.35,258.1 270.60,262.7 270.85,259.3 271.10,250.3 271.35,256.2 271.60,255.2 271.85,258.3 272.10,261.4 272.35,259.5 272.60,252.4 272.85,258.7 273.10,258.3 273.35,255.4 273.60,261.4 273.85,255.7 274.10,260.9 274.35,254.6 274.60,258.6 274.85,259.5 275.10,264.0 275.35,257.1 275.60,254.9 275.85,260.6 276.10,257.5 276.35,262.8 276.60,257.5 276.85,257.2 277.10,262.2 277.35,259.6 277.60,261.8 277.85,256.2 278.10,263.5 278.35,258.3 278.60,261.7 278.85,257.5 279.10,256.3 279.35,259.4 279.60,260.5 279.85,263.8 280.10,261.0 280.35,262.0 280.60,261.9 280.85,267.6 281.10,258.6 281.35,263.5 281.60,260.3 281.85,261.4 282.10,259.6 282.35,263.6 282.60,258.1 282.85,258.0 283.10,260.7 283.35,258.6 283.60,262.9 283.85,263.5 284.10,259.7 284.35,263.3 284.60,260.1 284.85,261.6 285.10,261.7 285.35,266.1 285.60,261.9 285.85,259.9 286.10,259.9 286.35,264.8 286.60,258.3 286.85,261.1 287.10,261.3 287.35,256.7 287.60,261.2 287.85,264.6 288.10,262.9 288.35,260.4 288.60,264.0 288.85,263.7 289.10,267.1 289.35,261.0 289.60,261.8 289.85,262.8 290.10,262.5 290.35,263.0 290.60,262.6 290.85,261.3 291.10,259.3 291.35,261.7 291.60,259.9 291.85,260.7 292.10,261.9 292.35,264.3 292.60,265.1 292.85,260.9 293.10,264.0 293.35,265.2 293.60,265.7 293.85,259.8 294.10,260.3 294.35,265.2 294.60,265.5 294.85,264.1 295.10,261.1 295.35,266.7 295.60,266.2 295.85,263.3 296.10,262.9 296.35,259.1 296.60,265.1 296.85,259.8 297.10,265.0 297.35,265.1 297.60,263.7 297.85,267.0 298.10,262.7 298.35,264.8 298.60,265.2 298.85,264.0 299.10,262.5 299.35,266.2 299.60,262.7 299.85,257.1 300.10,252.9 300.35,249.5 300.60,250.9 300.85,237.9 301.10,229.6 301.35,219.8 301.60,211.9 301.85,206.9 302.10,219.4 302.35,226.1 302.60,230.3 302.85,236.5 303.10,245.8 303.35,249.7 303.60,255.9 303.85,260.5 304.10,264.5 304.35,265.9 304.60,267.8 304.85,264.9 305.10,269.4 305.35,261.1 305.60,267.8 305.85,268.2 306.10,266.4 306.35,267.8 306.60,264.3 306.85,263.9 307.10,266.7 307.35,265.6 307.60,268.5 307.85,267.4 308.10,268.7 308.35,266.4 308.60,267.9 308.85,267.7 309.10,266.8 309.35,266.6 309.60,275.5 309.85,263.9 310.10,267.4 310.35,269.9 310.60,268.7 310.85,270.9 311.10,269.1 311.35,265.3 311.60,270.3 311.85,265.1 312.10,270.2 312.35,271.3 312.60,267.3 312.85,269.4 313.10,267.5 313.35,265.3 313.60,267.5 313.85,265.1 314.10,263.9 314.35,269.0 314.60,270.2 314.85,271.4 315.10,268.0 315.35,269.3 315.60,269.7 315.85,270.0 316.10,262.9 316.35,267.3 316.60,270.6 316.85,266.6 317.10,269.5 317.35,270.8 317.60,265.1 317.85,268.7 318.10,269.6 318.35,269.1 318.60,265.9 318.85,269.9 319.10,268.0 319.35,274.8 319.60,270.1 319.85,268.1 320.10,269.7 320.35,267.9 320.60,267.9 320.85,266.0 321.10,268.9 321.35,271.1 321.60,269.7 321.85,269.4 322.10,268.1 322.35,268.4 322.60,271.0 322.85,266.4 323.10,273.8 323.35,269.4 323.60,272.5 323.85,272.0 324.10,268.7 324.35,271.2 324.60,270.2 324.85,270.6 325.10,271.4 325.35,268.6 325.60,268.5 325.85,268.9 326.10,266.9 326.35,269.2 326.60,270.2 326.85,270.2 327.10,270.1 327.35,268.8 327.60,271.2 327.85,269.0 328.10,268.7 328.35,268.8 328.60,269.2 328.85,270.8 329.10,271.1 329.35,269.4 329.60,271.3 329.85,267.2 330.10,269.4 330.35,264.9 330.60,272.8 330.85,272.5 331.10,267.9 331.35,267.4 331.60,264.7 331.85,265.9 332.10,269.3 332.35,268.7 332.60,265.9 332.85,268.0 333.10,267.6 333.35,269.9 333.60,270.4 333.85,268.4 334.10,269.1 334.35,268.8 334.60,264.4 334.85,269.2 335.10,268.6 335.35,270.3 335.60,264.9 335.85,270.3 336.10,267.3 336.35,269.2 336.60,271.2 336.85,265.5 337.10,265.8 337.35,270.7 337.60,266.1 337.85,266.5 338.10,269.8 338.35,268.0 338.60,270.1 338.85,269.1 339.10,268.3 339.35,270.4 339.60,273.0 339.85,268.1 340.10,271.4 340.35,270.7 340.60,268.5 340.85,269.2 341.10,266.2 341.35,266.9 341.60,268.7 341.85,268.0 342.10,270.9 342.35,265.3 342.60,263.7 342.85,266.7 343.10,267.7 343.35,270.4 343.60,265.4 343.85,269.7 344.10,266.7 344.35,267.2 344.60,270.0 344.85,267.2 345.10,269.2 345.35,268.0 345.60,267.4 345.85,267.0 346.10,264.0 346.35,266.1 346.60,268.0 346.85,268.1 347.10,264.4 347.35,273.3 347.60,270.3 347.85,264.7 348.10,265.2 348.35,268.5 348.60,263.7 348.85,265.8 349.10,267.2 349.35,267.1 349.60,267.2 349.85,268.1 350.10,265.5 350.35,266.2 350.60,271.6 350.85,264.1 351.10,266.2 351.35,267.3 351.60,265.7 351.85,269.7 352.10,267.2 352.35,268.6 352.60,261.3 352.85,269.5 353.10,269.4 353.35,265.2 353.60,269.6 353.85,267.4 354.10,268.7 354.35,270.6 354.60,266.8 354.85,264.4 355.10,266.5 355.35,263.7 355.60,264.6 355.85,264.6 356.10,264.7 356.35,268.7 356.60,265.0 356.85,264.1 357.10,270.5 357.35,262.2 357.60,264.4 357.85,265.4 358.10,268.3 358.35,267.2 358.60,266.5 358.85,268.3 359.10,267.0 359.35,268.3 359.60,263.6 359.85,261.5 360.10,264.2 360.35,266.9 360.60,265.6 360.85,266.9 361.10,266.4 361.35,265.9 361.60,266.4 361.85,261.6 362.10,266.6 362.35,261.8 362.60,263.6 362.85,260.5 363.10,264.6 363.35,259.9 363.60,266.3 363.85,260.0 364.10,263.4 364.35,262.3 364.60,260.5 364.85,265.1 365.10,260.8 365.35,264.2 365.60,257.6 365.85,257.2 366.10,253.4 366.35,258.5 366.60,258.5 366.85,255.9 367.10,254.0 367.35,251.1 367.60,258.2 367.85,253.2 368.10,245.6 368.35,239.6 368.60,217.0 368.85,214.3 369.10,197.8 369.35,174.8 369.60,148.4 369.85,125.3 370.10,101.3 370.35,86.4 370.60,77.9 370.85,100.4 371.10,123.3 371.35,143.3 371.60,168.6 371.85,192.6 372.10,203.3 372.35,210.2 372.60,214.0 372.85,221.1 373.10,229.1 373.35,242.0 373.60,247.6 373.85,254.1 374.10,255.8 374.35,256.9 374.60,258.1 374.85,263.2 375.10,262.8 375.35,270.4 375.60,266.8 375.85,265.5 376.10,269.5 376.35,265.7 376.60,267.9 376.85,266.5 377.10,269.8 377.35,266.3 377.60,268.3 377.85,270.4 378.10,264.7 378.35,262.8 378.60,270.6 378.85,268.2 379.10,269.8 379.35,267.5 379.60,271.5 379.85,272.2 380.10,265.9 380.35,269.7 380.60,266.9 380.85,264.7 381.10,267.4 381.35,269.2 381.60,265.0 381.85,265.1 382.10,270.4 382.35,267.8 382.60,268.5 382.85,265.1 383.10,266.1 383.35,267.7 383.60,267.8 383.85,267.6 384.10,270.6 384.35,267.5 384.60,263.7 384.85,265.1 385.10,266.8 385.35,269.6 385.60,265.2 385.85,265.8 386.10,266.5 386.35,265.0 386.60,264.6 386.85,265.8 387.10,268.5 387.35,267.3 387.60,265.5 387.85,266.9 388.10,263.2 388.35,268.1 388.60,267.5 388.85,266.4 389.10,261.7 389.35,268.9 389.60,256.7 389.85,260.0 390.10,259.2 390.35,261.9 390.60,255.3 390.85,261.7 391.10,259.7 391.35,262.5 391.60,266.0 391.85,268.3 392.10,266.6 392.35,265.3 392.60,261.0 392.85,269.4 393.10,265.6 393.35,262.3 393.60,266.8 393.85,266.9 394.10,266.4 394.35,264.3 394.60,271.9 394.85,268.4 395.10,268.0 395.35,269.5 395.60,262.8 395.85,267.4 396.10,267.4 396.35,272.7 396.60,266.7 396.85,266.9 397.10,265.2 397.35,266.6 397.60,268.0 397.85,269.1 398.10,268.3 398.35,273.1 398.60,270.0 398.85,270.4 399.10,273.2 399.35,270.6 399.60,268.3 399.85,266.3 400.10,270.4 400.35,267.9 400.60,272.4 400.85,268.1 401.10,265.0 401.35,269.8 401.60,272.1 401.85,269.4 402.10,270.2 402.35,270.2 402.60,273.5 402.85,270.6 403.10,269.9 403.35,266.3 403.60,266.6 403.85,273.0 404.10,272.5 404.35,268.1 404.60,271.4 404.85,270.9 405.10,269.4 405.35,269.6 405.60,271.8 405.85,267.8 406.10,269.2 406.35,270.2 406.60,270.4 406.85,270.0 407.10,270.9 407.35,271.6 407.60,268.6 407.85,270.7 408.10,269.5 408.35,273.7 408.60,267.7 408.85,268.8 409.10,272.1 409.35,270.1 409.60,267.0 409.85,269.7 410.10,271.5 410.35,268.4 410.60,270.7 410.85,270.7 411.10,267.9 411.35,271.5 411.60,272.5 411.85,271.6 412.10,272.8 412.35,271.7 412.60,268.6 412.85,271.7 413.10,267.8 413.35,269.5 413.60,274.6 413.85,271.2 414.10,274.4 414.35,270.9 414.60,271.3 414.85,269.0 415.10,273.3 415.35,270.9 415.60,272.6 415.85,272.3 416.10,272.5 416.35,272.1 416.60,271.4 416.85,271.5 417.10,270.1 417.35,268.8 417.60,272.6 417.85,275.9 418.10,273.8 418.35,276.5 418.60,272.7 418.85,269.7 419.10,269.7 419.35,273.3 419.60,272.5 419.85,271.5 420.10,276.2 420.35,270.1 420.60,273.0 420.85,271.3 421.10,272.3 421.35,274.4 421.60,271.7 421.85,274.8 422.10,274.8 422.35,270.5 422.60,276.9 422.85,269.6 423.10,271.9 423.35,273.7 423.60,267.5 423.85,274.3 424.10,274.6 424.35,272.0 424.60,272.8 424.85,272.7 425.10,271.9 425.35,274.5 425.60,271.5 425.85,272.2 426.10,273.0 426.35,276.7 426.60,274.5 426.85,269.1 427.10,268.0 427.35,271.9 427.60,272.0 427.85,269.9 428.10,271.5 428.35,273.3 428.60,272.8 428.85,275.4 429.10,269.9 429.35,272.0 429.60,275.9 429.85,273.3 430.10,269.6 430.35,272.3 430.60,274.3 430.85,276.1 431.10,273.2 431.35,274.2 431.60,269.5 431.85,271.3 432.10,274.2 432.35,269.7 432.60,271.6 432.85,267.8 433.10,274.7 433.35,268.8 433.60,272.8 433.85,268.5 434.10,268.9 434.35,275.3 434.60,270.8 434.85,270.4 435.10,272.5 435.35,272.4 435.60,267.0 435.85,268.8 436.10,270.8 436.35,270.5 436.60,271.0 436.85,269.2 437.10,268.9 437.35,268.6 437.60,265.3 437.85,263.6 438.10,262.9 438.35,262.8 438.60,260.5 438.85,256.9 439.10,254.6 439.35,252.2 439.60,250.3 439.85,253.2 440.10,252.0 440.35,260.3 440.60,257.1 440.85,264.3 441.10,263.2 441.35,267.8 441.60,267.4 441.85,269.3 442.10,272.4 442.35,272.0 442.60,270.8 442.85,272.9 443.10,267.8 443.35,273.0 443.60,270.9 443.85,275.0 444.10,274.9 444.35,275.5 444.60,273.1 444.85,278.3 445.10,278.7 445.35,271.8 445.60,274.1 445.85,274.2 446.10,276.4 446.35,277.2 446.60,273.7 446.85,271.3 447.10,276.2 447.35,275.3 447.60,275.8 447.85,276.5 448.10,273.4 448.35,275.8 448.60,275.1 448.85,276.5 449.10,278.2 449.35,275.9 449.60,274.3 449.85,278.4 450.10,277.4 450.35,275.7 450.60,272.7 450.85,274.5 451.10,276.6 451.35,277.4 451.60,275.4 451.85,277.3 452.10,275.3 452.35,275.8 452.60,277.7 452.85,276.2 453.10,277.0 453.35,278.5 453.60,279.0 453.85,275.8 454.10,276.5 454.35,274.6 454.60,274.7 454.85,277.8 455.10,277.9 455.35,273.7 455.60,278.3 455.85,275.7 456.10,276.7 456.35,278.1 456.60,278.1 456.85,277.2 457.10,273.6 457.35,278.4 457.60,276.3 457.85,274.7 458.10,273.3 458.35,279.9 458.60,277.7 458.85,277.7 459.10,281.0 459.35,278.7 459.60,274.7 459.85,274.9 460.10,279.5 460.35,278.6 460.60,280.5 460.85,281.2 461.10,276.1 461.35,276.8 461.60,279.3 461.85,278.0 462.10,278.1 462.35,279.5 462.60,279.1 462.85,276.9 463.10,278.0 463.35,276.5 463.60,281.1 463.85,275.8 464.10,274.2 464.35,277.0 464.60,276.8 464.85,279.5 465.10,280.1 465.35,276.5 465.60,276.6 465.85,273.8 466.10,272.6 466.35,273.1 466.60,272.4 466.85,272.9 467.10,271.0 467.35,275.2 467.60,264.2 467.85,258.0 468.10,258.6 468.35,252.5 468.60,250.5 468.85,248.8 469.10,242.6 469.35,246.2 469.60,249.8 469.85,248.3 470.10,253.4 470.35,256.4 470.60,259.3 470.85,262.1 471.10,262.8 471.35,263.9 471.60,261.5 471.85,259.2 472.10,267.1 472.35,272.0 472.60,270.6 472.85,266.8 473.10,271.7 473.35,274.3 473.60,271.0 473.85,276.8 474.10,274.6 474.35,279.8 474.60,282.7 474.85,285.4 475.10,277.5 475.35,280.5 475.60,277.4 475.85,282.3 476.10,280.5 476.35,282.0 476.60,282.5 476.85,278.5 477.10,279.5 477.35,278.6 477.60,279.0 477.85,281.2 478.10,283.0 478.35,282.7 478.60,282.2 478.85,280.4 479.10,282.4 479.35,280.1 479.60,282.0 479.85,283.2 480.10,281.5 480.35,281.1 480.60,281.3 480.85,283.2 481.10,278.3 481.35,279.9 481.60,281.7 481.85,280.7 482.10,285.3 482.35,282.8 482.60,280.3 482.85,283.4 483.10,284.3 483.35,283.7 483.60,282.5 483.85,283.5 484.10,283.8 484.35,286.3 484.60,284.0 484.85,287.4 485.10,286.1 485.35,286.3 485.60,283.7 485.85,283.8 486.10,281.7 486.35,280.6 486.60,280.9 486.85,286.0 487.10,282.8 487.35,285.1 487.60,283.8 487.85,284.2 488.10,282.4 488.35,285.8 488.60,283.9 488.85,283.6 489.10,284.2 489.35,288.4 489.60,285.4 489.85,286.1 490.10,284.1 490.35,283.7 490.60,285.4 490.85,281.7 491.10,287.3 491.35,285.5 491.60,285.1 491.85,287.0 492.10,284.8 492.35,284.4 492.60,287.8 492.85,286.6 493.10,287.7 493.35,285.0 493.60,285.9 493.85,288.0 494.10,283.6 494.35,284.7 494.60,287.1 494.85,287.8 495.10,283.6 495.35,285.5 495.60,286.0 495.85,285.8 496.10,284.6 496.35,285.1 496.60,285.2 496.85,285.7 497.10,282.3 497.35,286.0 497.60,282.9 497.85,287.5 498.10,287.2 498.35,285.5 498.60,286.7 498.85,286.6 499.10,286.2 499.35,287.1 499.60,286.3 499.85,285.7 500.10,285.2 500.35,289.6 500.60,287.0 500.85,286.6 501.10,288.0 501.35,286.1 501.60,283.1 501.85,288.0 502.10,288.6 502.35,288.1 502.60,284.3 502.85,287.0 503.10,286.9 503.35,287.8 503.60,285.5 503.85,285.2 504.10,286.9 504.35,285.6 504.60,285.3 504.85,287.1 505.10,288.9 505.35,287.6 505.60,289.4 505.85,285.7 506.10,288.8 506.35,287.6 506.60,286.1 506.85,287.0 507.10,286.3 507.35,287.5 507.60,286.6 507.85,290.2 508.10,287.4 508.35,285.6 508.60,287.8 508.85,288.9 509.10,287.7 509.35,289.8 509.60,286.8 509.85,287.0 510.10,291.4 510.35,288.6 510.60,289.6 510.85,290.9 511.10,289.8 511.35,288.9 511.60,288.6 511.85,290.9 512.10,288.2 512.35,289.3 512.60,289.1 512.85,288.5 513.10,286.6 513.35,290.1 513.60,291.3 513.85,289.9 514.10,286.6 514.35,290.7 514.60,293.1 514.85,287.0 515.10,285.1 515.35,289.4 515.60,290.0 515.85,291.3 516.10,291.4 516.35,290.3 516.60,291.1 516.85,290.8 517.10,290.5 517.35,290.2 517.60,290.1 517.85,289.3 518.10,291.2 518.35,289.8 518.60,292.5 518.85,289.5 519.10,290.4 519.35,291.1 519.60,287.6 519.85,290.3 520.10,292.5 520.35,292.5 520.60,289.1 520.85,289.8 521.10,289.4 521.35,290.9 521.60,291.3 521.85,288.7 522.10,292.0 522.35,291.7 522.60,291.5 522.85,290.5 523.10,291.4 523.35,288.7 523.60,292.3 523.85,292.3 524.10,291.8 524.35,290.0 524.60,294.3 524.85,294.1 525.10,289.1 525.35,293.1 525.60,292.7 525.85,288.2 526.10,293.5 526.35,290.5 526.60,294.1 526.85,293.2 527.10,291.9 527.35,292.2 527.60,294.1 527.85,295.3 528.10,292.6 528.35,293.0 528.60,294.8 528.85,290.0 529.10,294.5 529.35,293.5 529.60,290.2 529.85,291.4 530.10,292.6 530.35,295.6 530.60,296.7 530.85,292.3 531.10,292.5 531.35,294.6 531.60,291.7 531.85,296.1" stroke="#f00" stroke-width="0.9"/>
<polyline points="37.10,238.0 37.35,223.0 37.60,233.0 37.85,229.9 38.10,230.4 38.35,231.3 38.60,225.5 38.85,231.6 39.10,229.6 39.35,243.6 39.60,233.5 39.85,231.8 40.10,232.2 40.35,231.0 40.60,229.9 40.85,232.2 41.10,235.3 41.35,233.0 41.60,237.1 41.85,233.5 42.10,234.4 42.35,239.5 42.60,238.3 42.85,233.1 43.10,234.3 43.35,236.8 43.60,241.6 43.85,234.4 44.10,234.7 44.35,238.9 44.60,232.8 44.85,235.0 45.10,239.0 45.35,238.1 45.60,236.7 45.85,238.7 46.10,227.3 46.35,240.2 46.60,233.8 46.85,231.6 47.10,238.2 47.35,239.8 47.60,233.3 47.85,234.2 48.10,238.0 48.35,237.9 48.60,242.9 48.85,240.9 49.10,239.2 49.35,242.4 49.60,238.2 49.85,236.0 50.10,241.2 50.35,241.3 50.60,238.8 50.85,237.1 51.10,243.7 51.35,231.8 51.60,242.5 51.85,242.0 52.10,235.1 52.35,240.9 52.60,237.6 52.85,243.5 53.10,234.5 53.35,238.3 53.60,243.8 53.85,245.4 54.10,234.7 54.35,240.3 54.60,244.4 54.85,240.3 55.10,247.6 55.35,238.7 55.60,243.9 55.85,239.5 56.10,245.9 56.35,243.1 56.60,242.2 56.85,238.0 57.10,249.1 57.35,246.2 57.60,246.4 57.85,247.8 58.10,245.4 58.35,242.4 58.60,243.6 58.85,242.1 59.10,249.2 59.35,237.8 59.60,241.2 59.85,244.3 60.10,248.5 60.35,247.4 60.60,241.8 60.85,240.4 61.10,246.0 61.35,250.1 61.60,248.8 61.85,247.2 62.10,243.8 62.35,247.7 62.60,246.2 62.85,249.7 63.10,244.8 63.35,247.8 63.60,247.2 63.85,249.4 64.10,248.6 64.35,256.0 64.60,252.8 64.85,253.0 65.10,242.1 65.35,247.6 65.60,246.9 65.85,250.6 66.10,242.0 66.35,252.8 66.60,252.6 66.85,245.4 67.10,246.5 67.35,247.2 67.60,249.9 67.85,251.9 68.10,256.3 68.35,249.6 68.60,252.7 68.85,250.9 69.10,255.9 69.35,252.9 69.60,255.0 69.85,247.6 70.10,250.5 70.35,248.7 70.60,255.9 70.85,253.4 71.10,250.6 71.35,250.3 71.60,253.3 71.85,249.8 72.10,249.2 72.35,253.6 72.60,258.1 72.85,251.7 73.10,250.9 73.35,249.2 73.60,248.8 73.85,254.5 74.10,255.6 74.35,255.2 74.60,254.3 74.85,252.7 75.10,254.0 75.35,251.7 75.60,252.4 75.85,254.3 76.10,251.7 76.35,251.0 76.60,251.7 76.85,253.2 77.10,256.7 77.35,253.1 77.60,253.9 77.85,253.9 78.10,256.3 78.35,259.5 78.60,248.3 78.85,257.1 79.10,253.2 79.35,255.1 79.60,257.2 79.85,258.0 80.10,257.9 80.35,255.3 80.60,259.7 80.85,254.1 81.10,254.6 81.35,257.4 81.60,253.5 81.85,261.5 82.10,258.2 82.35,261.7 82.60,255.2 82.85,254.2 83.10,255.9 83.35,257.6 83.60,253.8 83.85,256.7 84.10,255.6 84.35,260.4 84.60,253.8 84.85,258.8 85.10,253.9 85.35,256.4 85.60,253.8 85.85,252.5 86.10,256.4 86.35,259.0 86.60,256.4 86.85,257.7 87.10,259.3 87.35,256.7 87.60,256.4 87.85,255.0 88.10,251.1 88.35,258.0 88.60,250.6 88.85,257.6 89.10,255.6 89.35,259.0 89.60,255.4 89.85,253.2 90.10,256.6 90.35,253.9 90.60,255.0 90.85,255.6 91.10,255.1 91.35,254.9 91.60,253.0 91.85,254.9 92.10,249.1 92.35,254.9 92.60,251.8 92.85,258.6 93.10,259.0 93.35,249.5 93.60,255.7 93.85,254.8 94.10,252.1 94.35,256.7 94.60,255.8 94.85,249.9 95.10,254.3 95.35,251.6 95.60,255.4 95.85,251.4 96.10,256.8 96.35,257.2 96.60,251.7 96.85,253.2 97.10,253.3 97.35,253.6 97.60,260.4 97.85,259.8 98.10,252.5 98.35,253.2 98.60,255.4 98.85,262.3 99.10,255.1 99.35,256.0 99.60,257.2 99.85,255.7 100.10,262.5 100.35,254.3 100.60,258.1 100.85,256.4 101.10,257.8 101.35,252.6 101.60,261.3 101.85,255.8 102.10,256.3 102.35,253.5 102.60,254.2 102.85,258.0 103.10,257.5 103.35,258.7 103.60,260.0 103.85,258.6 104.10,256.7 104.35,259.1 104.60,258.4 104.85,256.5 105.10,258.9 105.35,263.5 105.60,257.6 105.85,255.9 106.10,259.1 106.35,262.4 106.60,256.3 106.85,256.6 107.10,256.4 107.35,260.3 107.60,251.4 107.85,257.8 108.10,260.1 108.35,254.3 108.60,260.9 108.85,258.1 109.10,254.9 109.35,257.1 109.60,252.0 109.85,254.8 110.10,261.7 110.35,253.7 110.60,261.7 110.85,256.0 111.10,259.1 111.35,256.3 111.60,249.6 111.85,254.5 112.10,256.6 112.35,252.7 112.60,254.7 112.85,257.0 113.10,254.0 113.35,250.9 113.60,253.9 113.85,258.3 114.10,254.4 114.35,258.5 114.60,260.2 114.85,255.8 115.10,252.3 115.35,251.8 115.60,255.5 115.85,258.1 116.10,256.2 116.35,257.0 116.60,254.0 116.85,259.8 117.10,253.7 117.35,254.0 117.60,251.1 117.85,250.1 118.10,253.2 118.35,251.3 118.60,251.6 118.85,253.0 119.10,253.9 119.35,262.8 119.60,256.8 119.85,252.1 120.10,252.9 120.35,254.8 120.60,251.6 120.85,256.8 121.10,251.1 121.35,244.2 121.60,255.6 121.85,251.3 122.10,257.5 122.35,251.0 122.60,249.3 122.85,257.4 123.10,249.4 123.35,253.2 123.60,256.8 123.85,252.7 124.10,252.0 124.35,252.5 124.60,254.6 124.85,249.5 125.10,253.7 125.35,253.5 125.60,258.7 125.85,250.5 126.10,248.6 126.35,253.4 126.60,249.8 126.85,251.7 127.10,251.0 127.35,253.9 127.60,248.1 127.85,249.6 128.10,241.9 128.35,246.8 128.60,254.0 128.85,247.0 129.10,246.7 129.35,244.9 129.60,250.2 129.85,248.8 130.10,244.3 130.35,249.9 130.60,248.4 130.85,249.7 131.10,245.1 131.35,252.4 131.60,248.0 131.85,246.2 132.10,245.8 132.35,245.3 132.60,248.6 132.85,244.8 133.10,248.9 133.35,247.1 133.60,249.3 133.85,247.4 134.10,244.4 134.35,238.3 134.60,245.1 134.85,246.5 135.10,244.3 135.35,245.3 135.60,241.8 135.85,241.9 136.10,239.8 136.35,246.9 136.60,242.5 136.85,240.0 137.10,235.2 137.35,240.3 137.60,245.1 137.85,241.5 138.10,237.2 138.35,243.9 138.60,243.5 138.85,241.6 139.10,240.5 139.35,241.3 139.60,238.9 139.85,239.3 140.10,233.7 140.35,240.8 140.60,236.2 140.85,241.7 141.10,227.9 141.35,236.6 141.60,237.0 141.85,232.2 142.10,234.3 142.35,234.8 142.60,233.7 142.85,229.5 143.10,230.3 143.35,233.7 143.60,234.0 143.85,225.7 144.10,228.9 144.35,228.3 144.60,230.0 144.85,222.1 145.10,220.2 145.35,224.0 145.60,220.3 145.85,219.7 146.10,220.9 146.35,221.3 146.60,215.2 146.85,220.4 147.10,211.0 147.35,217.7 147.60,213.0 147.85,209.7 148.10,215.1 148.35,210.7 148.60,208.5 148.85,208.6 149.10,210.7 149.35,208.0 149.60,207.1 149.85,209.7 150.10,202.9 150.35,202.8 150.60,205.6 150.85,204.5 151.10,203.9 151.35,203.4 151.60,197.6 151.85,195.7 152.10,201.5 152.35,192.0 152.60,194.6 152.85,192.7 153.10,186.6 153.35,187.1 153.60,185.5 153.85,186.7 154.10,191.5 154.35,181.5 154.60,180.6 154.85,171.9 155.10,178.9 155.35,176.9 155.60,172.2 155.85,177.1 156.10,168.1 156.35,171.2 156.60,171.1 156.85,165.2 157.10,170.9 157.35,170.2 157.60,161.0 157.85,159.8 158.10,165.3 158.35,162.0 158.60,157.0 158.85,157.8 159.10,158.3 159.35,157.1 159.60,159.1 159.85,156.5 160.10,161.5 160.35,161.0 160.60,159.5 160.85,161.7 161.10,163.3 161.35,162.1 161.60,156.5 161.85,164.2 162.10,162.5 162.35,168.4 162.60,164.6 162.85,167.3 163.10,168.0 163.35,173.8 163.60,170.2 163.85,171.2 164.10,173.2 164.35,172.1 164.60,175.4 164.85,176.2 165.10,178.2 165.35,184.4 165.60,177.5 165.85,179.7 166.10,179.6 166.35,183.3 166.60,177.9 166.85,180.3 167.10,183.2 167.35,185.9 167.60,184.6 167.85,182.7 168.10,183.3 168.35,188.3 168.60,191.8 168.85,188.6 169.10,188.5 169.35,189.8 169.60,185.7 169.85,188.2 170.10,188.8 170.35,191.1 170.60,190.4 170.85,187.0 171.10,195.1 171.35,197.4 171.60,191.4 171.85,194.1 172.10,194.0 172.35,196.1 172.60,189.0 172.85,199.6 173.10,193.1 173.35,199.2 173.60,195.7 173.85,194.5 174.10,195.7 174.35,199.5 174.60,194.1 174.85,196.1 175.10,196.1 175.35,192.4 175.60,202.8 175.85,200.8 176.10,199.2 176.35,203.5 176.60,196.8 176.85,200.0 177.10,207.8 177.35,203.9 177.60,193.5 177.85,190.1 178.10,197.9 178.35,205.0 178.60,200.1 178.85,201.2 179.10,204.1 179.35,198.3 179.60,201.8 179.85,205.4 180.10,204.5 180.35,204.5 180.60,204.9 180.85,209.0 181.10,202.6 181.35,208.7 181.60,213.2 181.85,202.7 182.10,198.3 182.35,204.4 182.60,207.4 182.85,210.0 183.10,207.4 183.35,204.6 183.60,204.9 183.85,212.1 184.10,204.6 184.35,212.2 184.60,208.2 184.85,211.8 185.10,212.0 185.35,212.7 185.60,213.3 185.85,207.8 186.10,212.5 186.35,212.0 186.60,213.5 186.85,217.0 187.10,212.5 187.35,211.5 187.60,211.9 187.85,213.7 188.10,217.7 188.35,210.6 188.60,219.9 188.85,217.5 189.10,216.3 189.35,213.1 189.60,218.7 189.85,223.7 190.10,213.0 190.35,223.2 190.60,225.2 190.85,221.3 191.10,222.3 191.35,229.0 191.60,225.5 191.85,218.9 192.10,222.2 192.35,222.1 192.60,219.4 192.85,215.7 193.10,226.4 193.35,222.2 193.60,225.2 193.85,224.6 194.10,228.3 194.35,224.9 194.60,223.6 194.85,228.4 195.10,231.7 195.35,226.4 195.60,232.4 195.85,229.1 196.10,226.9 196.35,231.7 196.60,227.0 196.85,233.5 197.10,229.0 197.35,232.7 197.60,227.6 197.85,229.4 198.10,236.2 198.35,233.8 198.60,233.8 198.85,232.7 199.10,236.1 199.35,230.5 199.60,231.9 199.85,235.6 200.10,233.8 200.35,234.6 200.60,237.0 200.85,237.1 201.10,237.1 201.35,243.7 201.60,243.0 201.85,242.9 202.10,239.1 202.35,237.8 202.60,235.0 202.85,239.0 203.10,234.6 203.35,238.9 203.60,243.7 203.85,248.3 204.10,245.0 204.35,239.3 204.60,244.1 204.85,240.2 205.10,245.7 205.35,242.9 205.60,246.3 205.85,252.0 206.10,246.9 206.35,251.6 206.60,244.8 206.85,243.4 207.10,248.9 207.35,250.4 207.60,243.3 207.85,245.5 208.10,240.9 208.35,245.0 208.60,248.7 208.85,245.8 209.10,244.5 209.35,242.0 209.60,249.6 209.85,249.4 210.10,249.0 210.35,248.1 210.60,243.5 210.85,253.2 211.10,247.7 211.35,247.6 211.60,250.6 211.85,241.8 212.10,248.5 212.35,248.5 212.60,250.2 212.85,253.4 213.10,250.9 213.35,244.0 213.60,248.8 213.85,250.7 214.10,250.7 214.35,246.6 214.60,245.6 214.85,252.6 215.10,252.0 215.35,250.7 215.60,245.3 215.85,255.8 216.10,241.3 216.35,248.9 216.60,256.2 216.85,249.1 217.10,246.3 217.35,248.6 217.60,253.2 217.85,244.8 218.10,249.4 218.35,248.9 218.60,245.0 218.85,250.8 219.10,243.5 219.35,245.6 219.60,247.4 219.85,246.0 220.10,248.4 220.35,249.2 220.60,244.7 220.85,243.2 221.10,242.6 221.35,242.4 221.60,245.5 221.85,241.5 222.10,242.9 222.35,240.6 222.60,237.5 222.85,242.4 223.10,235.5 223.35,238.3 223.60,242.5 223.85,232.9 224.10,232.0 224.35,228.5 224.60,228.1 224.85,226.1 225.10,228.4 225.35,226.5 225.60,227.3 225.85,230.7 226.10,228.4 226.35,226.4 226.60,225.2 226.85,225.7 227.10,224.9 227.35,222.8 227.60,230.1 227.85,236.4 228.10,233.7 228.35,231.5 228.60,239.8 228.85,231.2 229.10,233.9 229.35,236.7 229.60,234.3 229.85,237.4 230.10,245.6 230.35,239.0 230.60,237.1 230.85,239.2 231.10,241.2 231.35,237.1 231.60,243.9 231.85,246.4 232.10,242.2 232.35,247.6 232.60,242.3 232.85,241.8 233.10,251.9 233.35,252.1 233.60,244.6 233.85,250.6 234.10,250.4 234.35,252.4 234.60,251.8 234.85,250.0 235.10,252.5 235.35,252.8 235.60,252.6 235.85,247.6 236.10,244.6 236.35,251.6 236.60,249.5 236.85,257.2 237.10,257.3 237.35,256.4 237.60,254.9 237.85,256.6 238.10,260.2 238.35,255.1 238.60,260.3 238.85,260.0 239.10,259.2 239.35,262.9 239.60,257.2 239.85,265.2 240.10,257.2 240.35,257.9 240.60,257.2 240.85,261.6 241.10,257.9 241.35,260.9 241.60,257.7 241.85,264.0 242.10,266.3 242.35,262.1 242.60,266.2 242.85,263.3 243.10,267.9 243.35,259.6 243.60,258.0 243.85,266.6 244.10,262.3 244.35,260.0 244.60,261.2 244.85,258.8 245.10,262.9 245.35,260.6 245.60,267.7 245.85,265.7 246.10,259.6 246.35,260.2 246.60,262.9 246.85,259.4 247.10,264.4 247.35,264.7 247.60,263.0 247.85,263.7 248.10,266.7 248.35,269.3 248.60,269.6 248.85,262.0 249.10,268.2 249.35,264.2 249.60,267.4 249.85,267.1 250.10,268.5 250.35,263.5 250.60,264.4 250.85,267.1 251.10,268.7 251.35,263.7 251.60,266.2 251.85,268.1 252.10,268.5 252.35,265.9 252.60,264.6 252.85,265.3 253.10,272.1 253.35,270.1 253.60,265.4 253.85,263.4 254.10,269.4 254.35,272.3 254.60,266.8 254.85,271.9 255.10,268.5 255.35,266.4 255.60,271.8 255.85,270.3 256.10,271.9 256.35,266.8 256.60,270.8 256.85,268.9 257.10,272.6 257.35,269.3 257.60,269.3 257.85,269.5 258.10,274.2 258.35,271.2 258.60,269.4 258.85,268.8 259.10,268.9 259.35,275.2 259.60,267.2 259.85,269.7 260.10,273.5 260.35,274.9 260.60,272.9 260.85,274.2 261.10,274.2 261.35,274.9 261.60,272.7 261.85,276.7 262.10,273.3 262.35,276.7 262.60,270.4 262.85,275.4 263.10,270.2 263.35,269.8 263.60,274.7 263.85,271.5 264.10,274.6 264.35,271.0 264.60,275.3 264.85,273.7 265.10,270.9 265.35,272.1 265.60,275.9 265.85,271.9 266.10,275.1 266.35,278.8 266.60,276.0 266.85,273.9 267.10,272.6 267.35,275.4 267.60,270.4 267.85,266.7 268.10,272.5 268.35,271.5 268.60,278.3 268.85,274.5 269.10,271.8 269.35,271.4 269.60,275.5 269.85,272.3 270.10,272.9 270.35,274.1 270.60,274.6 270.85,274.6 271.10,274.7 271.35,281.3 271.60,278.6 271.85,270.6 272.10,278.6 272.35,274.9 272.60,277.6 272.85,272.9 273.10,275.4 273.35,275.2 273.60,278.3 273.85,276.7 274.10,276.2 274.35,272.3 274.60,274.4 274.85,276.4 275.10,276.3 275.35,273.9 275.60,274.0 275.85,274.3 276.10,272.0 276.35,271.6 276.60,278.4 276.85,273.7 277.10,274.9 277.35,272.9 277.60,277.8 277.85,278.9 278.10,274.2 278.35,275.9 278.60,272.9 278.85,278.9 279.10,276.9 279.35,272.7 279.60,277.7 279.85,275.5 280.10,275.7 280.35,275.6 280.60,273.3 280.85,273.7 281.10,276.5 281.35,275.0 281.60,273.0 281.85,280.1 282.10,274.9 282.35,274.1 282.60,273.9 282.85,277.2 283.10,278.0 283.35,276.3 283.60,277.9 283.85,272.4 284.10,275.1 284.35,275.0 284.60,276.2 284.85,277.4 285.10,271.6 285.35,283.7 285.60,274.5 285.85,277.4 286.10,278.6 286.35,278.7 286.60,277.4 286.85,270.2 287.10,274.5 287.35,278.8 287.60,275.0 287.85,274.8 288.10,271.9 288.35,280.2 288.60,278.6 288.85,275.5 289.10,277.3 289.35,277.4 289.60,275.2 289.85,277.2 290.10,278.5 290.35,279.2 290.60,280.9 290.85,278.1 291.10,277.0 291.35,279.0 291.60,275.3 291.85,275.4 292.10,280.9 292.35,277.5 292.60,278.6 292.85,279.9 293.10,276.0 293.35,280.0 293.60,279.6 293.85,278.4 294.10,279.6 294.35,277.0 294.60,273.8 294.85,278.2 295.10,274.4 295.35,280.9 295.60,279.6 295.85,277.8 296.10,279.2 296.35,282.2 296.60,281.8 296.85,280.2 297.10,280.4 297.35,278.9 297.60,279.3 297.85,281.0 298.10,279.5 298.35,280.5 298.60,277.5 298.85,276.4 299.10,276.4 299.35,279.2 299.60,283.2 299.85,283.0 300.10,278.3 300.35,277.2 300.60,282.4 300.85,281.7 301.10,277.8 301.35,283.2 301.60,281.4 301.85,283.9 302.10,281.9 302.35,283.2 302.60,282.0 302.85,279.4 303.10,281.0 303.35,280.2 303.60,283.5 303.85,279.6 304.10,278.6 304.35,285.7 304.60,284.5 304.85,285.2 305.10,284.5 305.35,279.1 305.60,280.9 305.85,281.3 306.10,282.5 306.35,278.1 306.60,282.6 306.85,283.3 307.10,280.7 307.35,283.0 307.60,287.1 307.85,283.0 308.10,285.2 308.35,285.1 308.60,283.9 308.85,283.9 309.10,280.4 309.35,285.8 309.60,282.3 309.85,281.8 310.10,284.8 310.35,281.9 310.60,284.3 310.85,285.7 311.10,283.7 311.35,283.8 311.60,285.5 311.85,285.3 312.10,280.6 312.35,281.1 312.60,286.6 312.85,284.7 313.10,279.7 313.35,281.2 313.60,284.1 313.85,282.1 314.10,285.1 314.35,284.4 314.60,285.3 314.85,281.9 315.10,285.6 315.35,289.4 315.60,282.8 315.85,287.2 316.10,286.6 316.35,288.8 316.60,284.5 316.85,282.3 317.10,283.0 317.35,286.4 317.60,286.8 317.85,287.4 318.10,286.9 318.35,286.8 318.60,284.2 318.85,282.7 319.10,285.5 319.35,286.2 319.60,285.4 319.85,282.2 320.10,284.3 320.35,282.4 320.60,285.7 320.85,283.4 321.10,285.2 321.35,286.2 321.60,285.9 321.85,288.4 322.10,283.5 322.35,281.4 322.60,287.7 322.85,288.6 323.10,288.7 323.35,286.5 323.60,287.1 323.85,286.3 324.10,283.5 324.35,288.9 324.60,287.2 324.85,285.1 325.10,290.0 325.35,283.3 325.60,285.5 325.85,288.6 326.10,287.1 326.35,284.2 326.60,283.7 326.85,284.9 327.10,289.3 327.35,287.1 327.60,287.3 327.85,285.2 328.10,287.8 328.35,286.3 328.60,284.3 328.85,285.2 329.10,286.4 329.35,288.3 329.60,285.8 329.85,286.9 330.10,289.9 330.35,284.3 330.60,283.4 330.85,287.7 331.10,286.6 331.35,285.5 331.60,286.2 331.85,286.9 332.10,288.2 332.35,284.9 332.60,287.1 332.85,283.2 333.10,283.8 333.35,285.7 333.60,284.5 333.85,286.8 334.10,285.3 334.35,284.2 334.60,285.7 334.85,284.2 335.10,282.1 335.35,282.9 335.60,283.5 335.85,284.1 336.10,289.0 336.35,283.0 336.60,286.0 336.85,288.5 337.10,287.4 337.35,284.4 337.60,289.7 337.85,287.0 338.10,283.6 338.35,285.1 338.60,286.7 338.85,284.9 339.10,286.4 339.35,285.1 339.60,285.6 339.85,283.5 340.10,284.8 340.35,283.3 340.60,285.3 340.85,280.4 341.10,284.5 341.35,286.3 341.60,284.9 341.85,283.6 342.10,284.7 342.35,281.8 342.60,281.7 342.85,282.6 343.10,283.0 343.35,285.3 343.60,281.3 343.85,285.2 344.10,279.8 344.35,281.4 344.60,282.9 344.85,285.3 345.10,281.5 345.35,278.2 345.60,283.6 345.85,282.6 346.10,280.3 346.35,280.3 346.60,281.0 346.85,282.6 347.10,283.7 347.35,279.1 347.60,287.1 347.85,282.1 348.10,281.3 348.35,283.4 348.60,282.2 348.85,286.9 349.10,284.2 349.35,281.0 349.60,280.9 349.85,280.6 350.10,280.8 350.35,283.0 350.60,280.1 350.85,284.9 351.10,281.1 351.35,280.9 351.60,283.2 351.85,276.8 352.10,279.0 352.35,282.3 352.60,281.0 352.85,280.9 353.10,281.7 353.35,279.4 353.60,280.3 353.85,277.7 354.10,276.4 354.35,283.2 354.60,278.3 354.85,274.9 355.10,283.1 355.35,282.3 355.60,278.6 355.85,278.5 356.10,279.4 356.35,277.3 356.60,277.6 356.85,279.5 357.10,281.7 357.35,280.6 357.60,280.4 357.85,282.8 358.10,282.0 358.35,274.6 358.60,280.4 358.85,275.7 359.10,274.8 359.35,279.6 359.60,276.1 359.85,276.6 360.10,279.4 360.35,275.1 360.60,274.1 360.85,276.6 361.10,278.3 361.35,276.3 361.60,271.0 361.85,272.8 362.10,273.5 362.35,278.1 362.60,275.2 362.85,274.6 363.10,275.1 363.35,270.9 363.60,272.4 363.85,272.0 364.10,267.9 364.35,269.8 364.60,271.2 364.85,267.7 365.10,272.9 365.35,273.3 365.60,274.6 365.85,270.7 366.10,273.4 366.35,277.2 366.60,276.1 366.85,272.9 367.10,275.8 367.35,279.0 367.60,276.0 367.85,277.5 368.10,282.9 368.35,277.4 368.60,277.7 368.85,276.1 369.10,277.3 369.35,282.5 369.60,279.4 369.85,277.5 370.10,278.5 370.35,281.0 370.60,283.1 370.85,280.3 371.10,283.9 371.35,281.8 371.60,284.0 371.85,284.8 372.10,285.5 372.35,283.8 372.60,284.5 372.85,285.9 373.10,282.4 373.35,288.8 373.60,286.2 373.85,287.3 374.10,285.2 374.35,285.0 374.60,285.7 374.85,284.1 375.10,285.2 375.35,286.5 375.60,286.3 375.85,283.8 376.10,285.3 376.35,281.8 376.60,287.7 376.85,285.1 377.10,286.7 377.35,284.2 377.60,286.2 377.85,287.4 378.10,288.5 378.35,284.0 378.60,288.4 378.85,286.5 379.10,285.4 379.35,287.9 379.60,286.5 379.85,286.5 380.10,285.8 380.35,287.6 380.60,287.3 380.85,286.9 381.10,285.5 381.35,286.3 381.60,288.1 381.85,289.8 382.10,287.4 382.35,290.2 382.60,287.5 382.85,285.4 383.10,288.7 383.35,285.7 383.60,288.4 383.85,289.7 384.10,287.1 384.35,287.5 384.60,292.4 384.85,291.3 385.10,288.3 385.35,289.3 385.60,284.4 385.85,287.7 386.10,288.6 386.35,283.4 386.60,292.3 386.85,286.0 387.10,286.0 387.35,289.1 387.60,288.1 387.85,285.7 388.10,288.5 388.35,286.0 388.60,286.9 388.85,285.4 389.10,286.7 389.35,289.0 389.60,288.6 389.85,288.9 390.10,290.1 390.35,288.3 390.60,287.1 390.85,287.8 391.10,291.5 391.35,288.4 391.60,289.0 391.85,288.2 392.10,288.8 392.35,289.2 392.60,286.9 392.85,288.1 393.10,286.9 393.35,286.8 393.60,289.1 393.85,289.8 394.10,290.1 394.35,288.5 394.60,286.8 394.85,289.6 395.10,289.5 395.35,285.5 395.60,289.9 395.85,289.5 396.10,291.5 396.35,286.2 396.60,286.0 396.85,289.8 397.10,285.0 397.35,287.0 397.60,286.3 397.85,286.5 398.10,284.8 398.35,287.9 398.60,290.2 398.85,289.2 399.10,289.2 399.35,287.7 399.60,291.1 399.85,289.4 400.10,290.4 400.35,285.5 400.60,289.0 400.85,286.2 401.10,289.0 401.35,288.8 401.60,286.3 401.85,288.7 402.10,290.6 402.35,289.3 402.60,289.5 402.85,286.8 403.10,287.1 403.35,286.3 403.60,288.6 403.85,290.6 404.10,285.6 404.35,288.4 404.60,286.3 404.85,289.2 405.10,288.0 405.35,284.8 405.60,285.2 405.85,287.8 406.10,286.7 406.35,291.5 406.60,288.5 406.85,286.5 407.10,287.5 407.35,291.4 407.60,286.6 407.85,289.9 408.10,289.2 408.35,291.2 408.60,289.4 408.85,287.7 409.10,289.4 409.35,288.5 409.60,291.7 409.85,288.3 410.10,292.1 410.35,288.3 410.60,289.3 410.85,287.3 411.10,288.8 411.35,288.6 411.60,288.9 411.85,290.3 412.10,287.7 412.35,287.1 412.60,290.8 412.85,288.3 413.10,287.6 413.35,291.0 413.60,290.3 413.85,284.0 414.10,288.3 414.35,290.4 414.60,290.6 414.85,288.1 415.10,292.0 415.35,287.7 415.60,288.7 415.85,292.6 416.10,289.2 416.35,293.1 416.60,291.2 416.85,286.2 417.10,291.9 417.35,288.1 417.60,289.0 417.85,292.6 418.10,287.1 418.35,291.5 418.60,288.8 418.85,289.1 419.10,289.4 419.35,290.0 419.60,289.1 419.85,289.8 420.10,294.9 420.35,292.0 420.60,290.1 420.85,294.5 421.10,291.7 421.35,288.1 421.60,287.3 421.85,293.1 422.10,292.6 422.35,290.4 422.60,291.0 422.85,288.8 423.10,288.0 423.35,294.8 423.60,288.0 423.85,293.3 424.10,289.5 424.35,291.3 424.60,294.3 424.85,294.3 425.10,290.5 425.35,292.9 425.60,292.2 425.85,290.1 426.10,291.9 426.35,293.7 426.60,290.3 426.85,292.3 427.10,291.6 427.35,289.3 427.60,291.3 427.85,294.3 428.10,291.5 428.35,292.6 428.60,293.3 428.85,290.6 429.10,295.4 429.35,294.6 429.60,294.9 429.85,296.2 430.10,295.2 430.35,291.2 430.60,290.9 430.85,290.8 431.10,291.0 431.35,294.2 431.60,295.1 431.85,291.5 432.10,294.1 432.35,290.5 432.60,292.2 432.85,291.1 433.10,290.1 433.35,293.1 433.60,293.2 433.85,292.4 434.10,292.2 434.35,291.5 434.60,293.0 434.85,292.3 435.10,293.8 435.35,291.3 435.60,293.9 435.85,294.5 436.10,295.8 436.35,295.6 436.60,294.1 436.85,292.6 437.10,290.7 437.35,293.9 437.60,296.5 437.85,297.0 438.10,289.7 438.35,289.7 438.60,293.6 438.85,292.5 439.10,294.7 439.35,294.5 439.60,293.6 439.85,294.5 440.10,291.8 440.35,289.5 440.60,292.9 440.85,298.2 441.10,291.5 441.35,293.9 441.60,295.6 441.85,294.1 442.10,295.5 442.35,292.9 442.60,294.8 442.85,295.5 443.10,297.8 443.35,295.1 443.60,296.3 443.85,293.7 444.10,293.8 444.35,296.3 444.60,294.5 444.85,296.0 445.10,294.6 445.35,297.0 445.60,297.4 445.85,291.7 446.10,296.3 446.35,293.7 446.60,297.4 446.85,292.6 447.10,294.0 447.35,290.7 447.60,291.3 447.85,291.1 448.10,295.8 448.35,293.9 448.60,293.5 448.85,292.8 449.10,291.0 449.35,288.9 449.60,292.6 449.85,292.1 450.10,292.4 450.35,294.2 450.60,294.5 450.85,291.1 451.10,287.3 451.35,292.3 451.60,291.2 451.85,289.9 452.10,291.8 452.35,289.1 452.60,289.9 452.85,294.3 453.10,292.0 453.35,292.2 453.60,291.8 453.85,291.4 454.10,290.5 454.35,294.2 454.60,289.8 454.85,291.1 455.10,289.3 455.35,288.9 455.60,284.9 455.85,285.7 456.10,292.0 456.35,291.8 456.60,288.1 456.85,288.7 457.10,289.8 457.35,286.7 457.60,291.8 457.85,285.0 458.10,286.8 458.35,282.8 458.60,290.8 458.85,287.9 459.10,290.8 459.35,285.6 459.60,288.1 459.85,287.4 460.10,287.7 460.35,291.5 460.60,292.0 460.85,290.4 461.10,287.2 461.35,289.8 461.60,291.9 461.85,289.5 462.10,289.7 462.35,289.7 462.60,287.3 462.85,289.6 463.10,292.3 463.35,287.7 463.60,289.8 463.85,291.4 464.10,287.5 464.35,290.0 464.60,283.9 464.85,292.0 465.10,288.3 465.35,289.4 465.60,290.3 465.85,290.9 466.10,291.2 466.35,290.7 466.60,294.8 466.85,291.7 467.10,290.4 467.35,291.4 467.60,290.7 467.85,291.2 468.10,292.4 468.35,292.5 468.60,294.5 468.85,292.4 469.10,294.7 469.35,294.7 469.60,294.0 469.85,296.7 470.10,294.7 470.35,292.7 470.60,295.4 470.85,295.2 471.10,295.0 471.35,295.5 471.60,299.4 471.85,295.8 472.10,296.2 472.35,295.1 472.60,296.0 472.85,297.1 473.10,294.4 473.35,293.8 473.60,297.0 473.85,297.4 474.10,293.4 474.35,295.1 474.60,297.6 474.85,298.3 475.10,294.3 475.35,296.0 475.60,298.3 475.85,296.0 476.10,296.2 476.35,296.0 476.60,294.6 476.85,296.9 477.10,297.3 477.35,294.3 477.60,296.9 477.85,298.6 478.10,296.9 478.35,298.2 478.60,295.5 478.85,298.8 479.10,295.0 479.35,299.6 479.60,295.5 479.85,295.0 480.10,294.6 480.35,295.4 480.60,295.2 480.85,294.8 481.10,295.5 481.35,297.5 481.60,298.1 481.85,296.3 482.10,299.3 482.35,295.6 482.60,295.8 482.85,299.5 483.10,299.2 483.35,295.6 483.60,296.1 483.85,301.1 484.10,302.1 484.35,301.7 484.60,297.0 484.85,299.9 485.10,301.6 485.35,300.5 485.60,297.7 485.85,300.2 486.10,298.0 486.35,298.9 486.60,304.8 486.85,302.3 487.10,298.5 487.35,298.5 487.60,301.9 487.85,300.1 488.10,302.2 488.35,300.1 488.60,300.9 488.85,301.7 489.10,299.5 489.35,297.9 489.60,299.2 489.85,300.1 490.10,301.0 490.35,301.3 490.60,301.3 490.85,302.4 491.10,299.9 491.35,304.0 491.60,305.1 491.85,302.2 492.10,301.9 492.35,303.8 492.60,302.8 492.85,302.0 493.10,301.4 493.35,300.4 493.60,299.7 493.85,302.9 494.10,302.2 494.35,299.9 494.60,301.7 494.85,303.2 495.10,301.1 495.35,300.6 495.60,301.2 495.85,298.5 496.10,301.8 496.35,299.2 496.60,305.5 496.85,306.0 497.10,301.0 497.35,298.2 497.60,304.5 497.85,304.2 498.10,301.6 498.35,301.0 498.60,298.6 498.85,300.4 499.10,300.6 499.35,299.6 499.60,303.8 499.85,297.4 500.10,298.9 500.35,301.2 500.60,301.2 500.85,303.3 501.10,297.8 501.35,298.9 501.60,300.3 501.85,300.3 502.10,299.2 502.35,298.4 502.60,301.4 502.85,297.5 503.10,295.6 503.35,301.5 503.60,301.8 503.85,300.1 504.10,296.9 504.35,296.7 504.60,296.4 504.85,295.8 505.10,296.9 505.35,297.8 505.60,297.7 505.85,295.7 506.10,295.7 506.35,295.2 506.60,299.7 506.85,294.3 507.10,298.5 507.35,295.8 507.60,296.7 507.85,296.2 508.10,302.0 508.35,299.2 508.60,304.4 508.85,298.0 509.10,298.1 509.35,301.3 509.60,301.5 509.85,300.3 510.10,297.5 510.35,303.8 510.60,302.5 510.85,302.5 511.10,301.0 511.35,303.3 511.60,301.4 511.85,302.6 512.10,302.4 512.35,305.1 512.60,302.2 512.85,302.6 513.10,305.3 513.35,304.0 513.60,303.7 513.85,303.5 514.10,305.8 514.35,303.1 514.60,305.3 514.85,304.8 515.10,305.5 515.35,303.6 515.60,303.0 515.85,305.6 516.10,303.2 516.35,302.6 516.60,304.1 516.85,303.5 517.10,307.0 517.35,302.9 517.60,308.3 517.85,304.2 518.10,305.7 518.35,306.7 518.60,308.2 518.85,306.8 519.10,303.8 519.35,301.5 519.60,305.2 519.85,302.6 520.10,304.6 520.35,307.3 520.60,305.3 520.85,307.8 521.10,303.6 521.35,305.1 521.60,305.3 521.85,302.9 522.10,306.2 522.35,303.8 522.60,306.1 522.85,304.9 523.10,307.5 523.35,307.2 523.60,305.8 523.85,305.6 524.10,306.5 524.35,308.2 524.60,307.7 524.85,306.1 525.10,306.4 525.35,308.6 525.60,303.0 525.85,306.8 526.10,304.3 526.35,308.2 526.60,304.9 526.85,303.3 527.10,303.7 527.35,305.5 527.60,306.8 527.85,308.3 528.10,303.1 528.35,304.4 528.60,310.6 528.85,306.7 529.10,305.0 529.35,305.8 529.60,296.2 529.85,307.6 530.10,305.0 530.35,302.1 530.60,306.6 530.85,301.6 531.10,302.6 531.35,305.2 531.60,305.0 531.85,303.4" stroke="#00f" stroke-width="0.9"/>
</g>
<g stroke="#000" fill="none">
<line x1="161" y1="26.7" x2="161" y2="311.6" stroke-width="2" stroke-dasharray="2 2.2"/>
<line x1="185.8" y1="70" x2="185.8" y2="311.6" stroke-width="1.4" stroke-dasharray="5.7 2.8 1.3 2.9"/>
<line x1="225.7" y1="174" x2="225.7" y2="311.6" stroke-width="1.4"/>
<line x1="301.1" y1="190.3" x2="301.1" y2="311.6" stroke-width="1.4" stroke-dasharray="5.7 2.8 1.3 2.9"/>
<line x1="363.2" y1="34.5" x2="363.2" y2="311.6" stroke-width="1.4"/>
<line x1="370.8" y1="66" x2="370.8" y2="311.6" stroke-width="1.4" stroke-dasharray="5.7 2.8 1.3 2.9"/>
<line x1="391.6" y1="216.2" x2="391.6" y2="311.6" stroke-width="1.4" stroke-dasharray="5.7 2.8 1.3 2.9"/>
<line x1="439.4" y1="172" x2="439.4" y2="311.6" stroke-width="1.4" stroke-dasharray="5.7 2.8 1.3 2.9"/>
<line x1="468.5" y1="220.1" x2="468.5" y2="311.6" stroke-width="1.4" stroke-dasharray="5.7 2.8 1.3 2.9"/>
</g>
<g stroke="#000" stroke-width="1.6" fill="none">
<line x1="49.00" y1="311.6" x2="49.00" y2="314.20000000000005" />
<line x1="61.39" y1="311.6" x2="61.39" y2="314.20000000000005" />
<line x1="73.78" y1="311.6" x2="73.78" y2="314.20000000000005" />
<line x1="86.18" y1="311.6" x2="86.18" y2="314.20000000000005" />
<line x1="110.97" y1="311.6" x2="110.97" y2="314.20000000000005" />
<line x1="123.37" y1="311.6" x2="123.37" y2="314.20000000000005" />
<line x1="135.76" y1="311.6" x2="135.76" y2="314.20000000000005" />
<line x1="148.16" y1="311.6" x2="148.16" y2="314.20000000000005" />
<line x1="172.94" y1="311.6" x2="172.94" y2="314.20000000000005" />
<line x1="185.34" y1="311.6" x2="185.34" y2="314.20000000000005" />
<line x1="197.73" y1="311.6" x2="197.73" y2="314.20000000000005" />
<line x1="210.13" y1="311.6" x2="210.13" y2="314.20000000000005" />
<line x1="234.92" y1="311.6" x2="234.92" y2="314.20000000000005" />
<line x1="247.31" y1="311.6" x2="247.31" y2="314.20000000000005" />
<line x1="259.71" y1="311.6" x2="259.71" y2="314.20000000000005" />
<line x1="272.11" y1="311.6" x2="272.11" y2="314.20000000000005" />
<line x1="296.90" y1="311.6" x2="296.90" y2="314.20000000000005" />
<line x1="309.29" y1="311.6" x2="309.29" y2="314.20000000000005" />
<line x1="321.69" y1="311.6" x2="321.69" y2="314.20000000000005" />
<line x1="334.08" y1="311.6" x2="334.08" y2="314.20000000000005" />
<line x1="358.87" y1="311.6" x2="358.87" y2="314.20000000000005" />
<line x1="371.26" y1="311.6" x2="371.26" y2="314.20000000000005" />
<line x1="383.66" y1="311.6" x2="383.66" y2="314.20000000000005" />
<line x1="396.06" y1="311.6" x2="396.06" y2="314.20000000000005" />
<line x1="420.85" y1="311.6" x2="420.85" y2="314.20000000000005" />
<line x1="433.24" y1="311.6" x2="433.24" y2="314.20000000000005" />
<line x1="445.63" y1="311.6" x2="445.63" y2="314.20000000000005" />
<line x1="458.03" y1="311.6" x2="458.03" y2="314.20000000000005" />
<line x1="482.82" y1="311.6" x2="482.82" y2="314.20000000000005" />
<line x1="495.22" y1="311.6" x2="495.22" y2="314.20000000000005" />
<line x1="507.61" y1="311.6" x2="507.61" y2="314.20000000000005" />
<line x1="520.00" y1="311.6" x2="520.00" y2="314.20000000000005" />
<line x1="98.57" y1="311.6" x2="98.57" y2="315.8" />
<line x1="160.55" y1="311.6" x2="160.55" y2="315.8" />
<line x1="222.52" y1="311.6" x2="222.52" y2="315.8" />
<line x1="284.50" y1="311.6" x2="284.50" y2="315.8" />
<line x1="346.48" y1="311.6" x2="346.48" y2="315.8" />
<line x1="408.45" y1="311.6" x2="408.45" y2="315.8" />
<line x1="470.43" y1="311.6" x2="470.43" y2="315.8" />
<line x1="36.6" y1="8.8" x2="36.6" y2="315.8" />
<line x1="532.4" y1="8.8" x2="532.4" y2="315.8" />
<line x1="35.800000000000004" y1="8.8" x2="533.1999999999999" y2="8.8" />
<line x1="36.6" y1="311.6" x2="532.4" y2="311.6" />
</g>

<line x1="88" y1="45.75" x2="156.6" y2="45.75" stroke="#000" stroke-width="1.9"/>
<path d="M73.3,45.75 L89.8,42.3 L89.8,49.2 Z" fill="#000"/>
<line x1="65.35" y1="165" x2="65.35" y2="227" stroke="#000" stroke-width="2.1"/>
<path d="M65.35,152.7 L61.6,166.6 L69.1,166.6 Z" fill="#000"/>
<line x1="98.2" y1="258.5" x2="98.2" y2="278" stroke="#000" stroke-width="2.1"/>
<path d="M98.2,289.8 L94.3,276.5 L102.1,276.5 Z" fill="#000"/>

<text transform="translate(42.70,51.63) scale(1.145,1)" style="font-size:16.95px" fill="#000">CS</text>
<text transform="translate(40.40,146.64) scale(1.196,1)" style="font-size:16.38px" fill="#000">CS/CoO</text>
<text transform="translate(64.99,304.24) scale(1.239,1)" style="font-size:15.96px" fill="#000">CS/SrO</text>
<text transform="translate(154.36,23.44) scale(1.094,1)" style="font-size:16.79px" fill="#000">a</text>
<text transform="translate(165.58,23.48) scale(1.347,1)" style="font-size:12.29px" fill="#000">(110)</text>
<text transform="translate(180.75,66.75) scale(1.317,1)" style="font-size:15.52px" fill="#000">b</text>
<text transform="translate(194.58,66.60) scale(1.186,1)" style="font-size:13.81px" fill="#000">(111)</text>
<text transform="translate(220.97,169.76) scale(1.376,1)" style="font-size:14.71px" fill="#000">d</text>
<text transform="translate(236.77,169.77) scale(1.250,1)" style="font-size:13.28px" fill="#000">(202)</text>
<text transform="translate(295.62,185.85) scale(1.295,1)" style="font-size:15.52px" fill="#000">c</text>
<text transform="translate(310.78,185.18) scale(1.303,1)" style="font-size:12.57px" fill="#000">(100)</text>
<text transform="translate(357.95,29.86) scale(1.430,1)" style="font-size:14.43px" fill="#000">d</text>
<text transform="translate(374.90,29.75) scale(1.216,1)" style="font-size:13.25px" fill="#000">(310)</text>
<text transform="translate(366.22,58.76) scale(1.310,1)" style="font-size:14.84px" fill="#000">b</text>
<text transform="translate(378.57,58.88) scale(1.336,1)" style="font-size:12.43px" fill="#000">(220)</text>
<text transform="translate(386.31,213.14) scale(1.264,1)" style="font-size:16.06px" fill="#000">c</text>
<text transform="translate(397.96,212.77) scale(1.267,1)" style="font-size:13.28px" fill="#000">(101)</text>
<text transform="translate(431.54,165.15) scale(1.318,1)" style="font-size:15.66px" fill="#000">b</text>
<text transform="translate(444.07,165.37) scale(1.278,1)" style="font-size:12.99px" fill="#000">(200)</text>
<text transform="translate(461.24,215.15) scale(1.353,1)" style="font-size:15.25px" fill="#000">b</text>
<text transform="translate(478.48,215.38) scale(1.302,1)" style="font-size:12.71px" fill="#000">(400)</text>
<text transform="translate(26.48,326.86) scale(1.215,1)" style="font-size:14.69px" fill="#000">10</text>
<text transform="translate(88.47,326.85) scale(1.182,1)" style="font-size:14.90px" fill="#000">15</text>
<text transform="translate(150.95,326.86) scale(1.182,1)" style="font-size:14.69px" fill="#000">20</text>
<text transform="translate(212.93,326.86) scale(1.167,1)" style="font-size:14.69px" fill="#000">25</text>
<text transform="translate(275.11,326.84) scale(1.171,1)" style="font-size:14.66px" fill="#000">30</text>
<text transform="translate(337.09,326.84) scale(1.157,1)" style="font-size:14.66px" fill="#000">35</text>
<text transform="translate(399.19,326.86) scale(1.160,1)" style="font-size:14.69px" fill="#000">40</text>
<text transform="translate(461.17,326.85) scale(1.129,1)" style="font-size:14.90px" fill="#000">45</text>
<text transform="translate(522.87,326.86) scale(1.178,1)" style="font-size:14.69px" fill="#000">50</text>
<text transform="translate(213.38,350.50) scale(1.175,1)" style="font-size:15.32px" fill="#000">2 Theta (Degree)</text>
<text transform="translate(22.40,212.02) rotate(-90) scale(1,1.101)" style="font-size:15.18px" fill="#000">Intensity (a.u.)</text>
</svg>
</body></html>
